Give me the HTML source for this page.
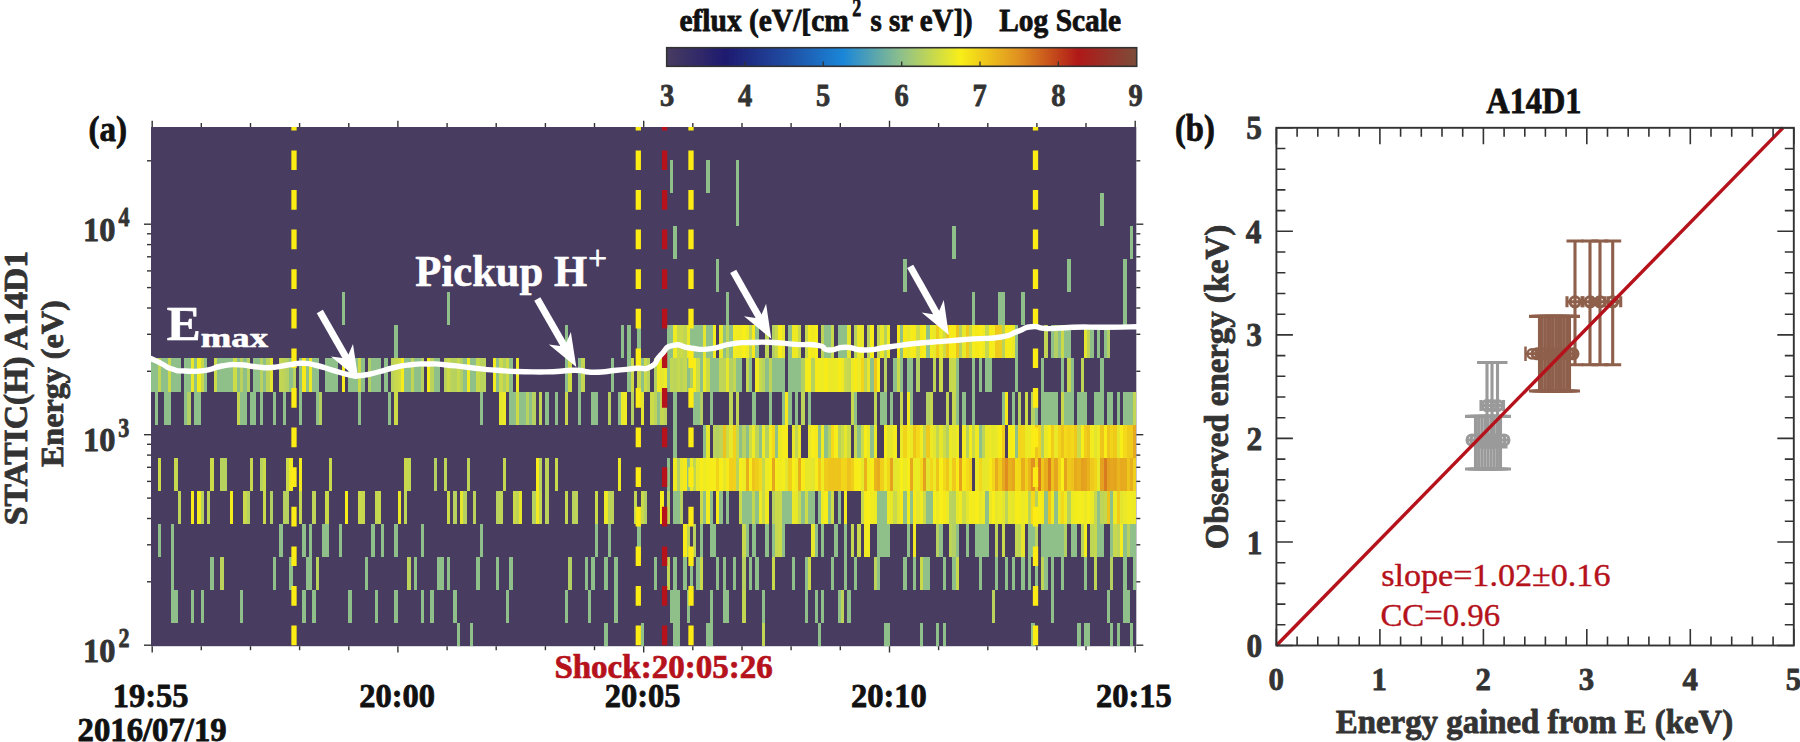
<!DOCTYPE html>
<html><head><meta charset="utf-8"><title>Figure</title>
<style>
html,body{margin:0;padding:0;background:#fff;}
svg{display:block;}
text{font-family:"Liberation Serif",serif;font-weight:bold;stroke-linejoin:round;}
.tk{stroke:#333;stroke-width:0.8px;}
.bk{stroke:#111;stroke-width:0.8px;}
.tk{fill:#333;}
.bk{fill:#111;}
</style></head><body>
<svg width="1800" height="742" viewBox="0 0 1800 742">
<defs>
<linearGradient id="cb" x1="0" x2="1" y1="0" y2="0">
<stop offset="0" stop-color="#483c60"/><stop offset="0.125" stop-color="#1e1a70"/><stop offset="0.25" stop-color="#1f4aa0"/><stop offset="0.375" stop-color="#1a86d8"/><stop offset="0.5" stop-color="#8fc08a"/><stop offset="0.625" stop-color="#f8ee18"/><stop offset="0.75" stop-color="#e09020"/><stop offset="0.875" stop-color="#b01818"/><stop offset="1" stop-color="#7d4d3a"/>
</linearGradient>
</defs>
<rect width="1800" height="742" fill="#fff"/>

<!-- colorbar -->
<rect x="666.7" y="47.7" width="470" height="18.6" fill="url(#cb)" stroke="#333" stroke-width="1.6"/>
<g stroke="#333" stroke-width="1.3">
<line x1="745" y1="61.5" x2="745" y2="66"/><line x1="823.3" y1="61.5" x2="823.3" y2="66"/><line x1="901.7" y1="61.5" x2="901.7" y2="66"/><line x1="980" y1="61.5" x2="980" y2="66"/><line x1="1058.3" y1="61.5" x2="1058.3" y2="66"/>
</g>

<!-- spectrogram -->
<rect x="151" y="127" width="985.3" height="519.2" fill="#483c60"/>
<g shape-rendering="crispEdges">
<rect x="456.6" y="623.2" width="3.3" height="23.0" fill="#8fc08a"/>
<rect x="469.8" y="623.2" width="3.3" height="23.0" fill="#8fc08a"/>
<rect x="604.4" y="623.2" width="3.3" height="23.0" fill="#8fc08a"/>
<rect x="640.5" y="623.2" width="3.3" height="23.0" fill="#8fc08a"/>
<rect x="673.3" y="623.2" width="6.6" height="23.0" fill="#8fc08a"/>
<rect x="706.2" y="623.2" width="6.6" height="23.0" fill="#8fc08a"/>
<rect x="762.0" y="623.2" width="3.3" height="23.0" fill="#c1d653"/>
<rect x="817.8" y="623.2" width="3.3" height="23.0" fill="#8fc08a"/>
<rect x="883.5" y="623.2" width="6.6" height="23.0" fill="#8fc08a"/>
<rect x="919.6" y="623.2" width="3.3" height="23.0" fill="#8fc08a"/>
<rect x="936.0" y="623.2" width="3.3" height="23.0" fill="#8fc08a"/>
<rect x="942.6" y="623.2" width="3.3" height="23.0" fill="#8fc08a"/>
<rect x="1031.2" y="623.2" width="3.3" height="23.0" fill="#8fc08a"/>
<rect x="1077.2" y="623.2" width="3.3" height="23.0" fill="#8fc08a"/>
<rect x="1083.8" y="623.2" width="6.6" height="23.0" fill="#8fc08a"/>
<rect x="1110.0" y="623.2" width="3.3" height="23.0" fill="#8fc08a"/>
<rect x="1116.6" y="623.2" width="3.3" height="23.0" fill="#8fc08a"/>
<rect x="1129.7" y="623.2" width="3.3" height="23.0" fill="#8fc08a"/>
<rect x="171.0" y="590.1" width="6.6" height="33.1" fill="#8fc08a"/>
<rect x="190.7" y="590.1" width="3.3" height="33.1" fill="#8fc08a"/>
<rect x="200.6" y="590.1" width="3.3" height="33.1" fill="#8fc08a"/>
<rect x="239.9" y="590.1" width="3.3" height="33.1" fill="#8fc08a"/>
<rect x="302.3" y="590.1" width="3.3" height="33.1" fill="#8fc08a"/>
<rect x="312.2" y="590.1" width="3.3" height="33.1" fill="#8fc08a"/>
<rect x="348.3" y="590.1" width="3.3" height="33.1" fill="#8fc08a"/>
<rect x="374.6" y="590.1" width="3.3" height="33.1" fill="#8fc08a"/>
<rect x="394.3" y="590.1" width="3.3" height="33.1" fill="#8fc08a"/>
<rect x="420.5" y="590.1" width="3.3" height="33.1" fill="#8fc08a"/>
<rect x="430.4" y="590.1" width="3.3" height="33.1" fill="#8fc08a"/>
<rect x="453.4" y="590.1" width="3.3" height="33.1" fill="#8fc08a"/>
<rect x="505.9" y="590.1" width="3.3" height="33.1" fill="#8fc08a"/>
<rect x="565.0" y="590.1" width="3.3" height="33.1" fill="#8fc08a"/>
<rect x="588.0" y="590.1" width="3.3" height="33.1" fill="#8fc08a"/>
<rect x="614.2" y="590.1" width="3.3" height="33.1" fill="#8fc08a"/>
<rect x="670.1" y="590.1" width="9.9" height="33.1" fill="#8fc08a"/>
<rect x="686.5" y="590.1" width="3.3" height="33.1" fill="#8fc08a"/>
<rect x="709.5" y="590.1" width="3.3" height="33.1" fill="#8fc08a"/>
<rect x="722.6" y="590.1" width="6.6" height="33.1" fill="#8fc08a"/>
<rect x="742.3" y="590.1" width="3.3" height="33.1" fill="#c2d652"/>
<rect x="762.0" y="590.1" width="3.3" height="33.1" fill="#8fc08a"/>
<rect x="804.7" y="590.1" width="3.3" height="33.1" fill="#8fc08a"/>
<rect x="814.5" y="590.1" width="3.3" height="33.1" fill="#8fc08a"/>
<rect x="821.1" y="590.1" width="3.3" height="33.1" fill="#8fc08a"/>
<rect x="837.5" y="590.1" width="3.3" height="33.1" fill="#8fc08a"/>
<rect x="840.8" y="590.1" width="3.3" height="33.1" fill="#bdd458"/>
<rect x="847.4" y="590.1" width="3.3" height="33.1" fill="#8fc08a"/>
<rect x="991.8" y="590.1" width="3.3" height="33.1" fill="#bad35b"/>
<rect x="1050.9" y="590.1" width="3.3" height="33.1" fill="#8fc08a"/>
<rect x="1106.8" y="590.1" width="3.3" height="33.1" fill="#8fc08a"/>
<rect x="1123.2" y="590.1" width="6.6" height="33.1" fill="#8fc08a"/>
<rect x="171.0" y="557.0" width="3.3" height="33.1" fill="#8fc08a"/>
<rect x="210.4" y="557.0" width="3.3" height="33.1" fill="#8fc08a"/>
<rect x="220.2" y="557.0" width="3.3" height="33.1" fill="#bbd35a"/>
<rect x="272.8" y="557.0" width="3.3" height="33.1" fill="#8fc08a"/>
<rect x="289.2" y="557.0" width="3.3" height="33.1" fill="#8fc08a"/>
<rect x="305.6" y="557.0" width="6.6" height="33.1" fill="#8fc08a"/>
<rect x="315.5" y="557.0" width="3.3" height="33.1" fill="#bad35b"/>
<rect x="364.7" y="557.0" width="3.3" height="33.1" fill="#8fc08a"/>
<rect x="407.4" y="557.0" width="3.3" height="33.1" fill="#bbd35a"/>
<rect x="414.0" y="557.0" width="3.3" height="33.1" fill="#8fc08a"/>
<rect x="436.9" y="557.0" width="6.6" height="33.1" fill="#8fc08a"/>
<rect x="446.8" y="557.0" width="3.3" height="33.1" fill="#8fc08a"/>
<rect x="476.4" y="557.0" width="3.3" height="33.1" fill="#8fc08a"/>
<rect x="496.1" y="557.0" width="3.3" height="33.1" fill="#8fc08a"/>
<rect x="509.2" y="557.0" width="3.3" height="33.1" fill="#8fc08a"/>
<rect x="568.3" y="557.0" width="3.3" height="33.1" fill="#b4d062"/>
<rect x="584.7" y="557.0" width="3.3" height="33.1" fill="#8fc08a"/>
<rect x="591.3" y="557.0" width="3.3" height="33.1" fill="#8fc08a"/>
<rect x="604.4" y="557.0" width="3.3" height="33.1" fill="#8fc08a"/>
<rect x="614.2" y="557.0" width="3.3" height="33.1" fill="#8fc08a"/>
<rect x="653.6" y="557.0" width="3.3" height="33.1" fill="#8fc08a"/>
<rect x="666.8" y="557.0" width="3.3" height="33.1" fill="#c2d653"/>
<rect x="673.3" y="557.0" width="3.3" height="33.1" fill="#8fc08a"/>
<rect x="683.2" y="557.0" width="3.3" height="33.1" fill="#8fc08a"/>
<rect x="689.8" y="557.0" width="3.3" height="33.1" fill="#8fc08a"/>
<rect x="696.3" y="557.0" width="3.3" height="33.1" fill="#8fc08a"/>
<rect x="699.6" y="557.0" width="3.3" height="33.1" fill="#cada4a"/>
<rect x="716.0" y="557.0" width="3.3" height="33.1" fill="#8fc08a"/>
<rect x="722.6" y="557.0" width="3.3" height="33.1" fill="#8fc08a"/>
<rect x="732.5" y="557.0" width="3.3" height="33.1" fill="#8fc08a"/>
<rect x="742.3" y="557.0" width="3.3" height="33.1" fill="#b7d15f"/>
<rect x="748.9" y="557.0" width="3.3" height="33.1" fill="#8fc08a"/>
<rect x="755.4" y="557.0" width="3.3" height="33.1" fill="#8fc08a"/>
<rect x="771.8" y="557.0" width="3.3" height="33.1" fill="#cbda49"/>
<rect x="791.5" y="557.0" width="3.3" height="33.1" fill="#8fc08a"/>
<rect x="804.7" y="557.0" width="3.3" height="33.1" fill="#8fc08a"/>
<rect x="808.0" y="557.0" width="3.3" height="33.1" fill="#cddb47"/>
<rect x="831.0" y="557.0" width="3.3" height="33.1" fill="#8fc08a"/>
<rect x="844.1" y="557.0" width="3.3" height="33.1" fill="#8fc08a"/>
<rect x="853.9" y="557.0" width="3.3" height="33.1" fill="#8fc08a"/>
<rect x="873.6" y="557.0" width="3.3" height="33.1" fill="#bcd459"/>
<rect x="876.9" y="557.0" width="3.3" height="33.1" fill="#8fc08a"/>
<rect x="903.2" y="557.0" width="3.3" height="33.1" fill="#8fc08a"/>
<rect x="913.0" y="557.0" width="3.3" height="33.1" fill="#8fc08a"/>
<rect x="919.6" y="557.0" width="3.3" height="33.1" fill="#c8d94c"/>
<rect x="922.9" y="557.0" width="6.6" height="33.1" fill="#8fc08a"/>
<rect x="942.6" y="557.0" width="3.3" height="33.1" fill="#8fc08a"/>
<rect x="952.4" y="557.0" width="3.3" height="33.1" fill="#8fc08a"/>
<rect x="955.7" y="557.0" width="3.3" height="33.1" fill="#c8d94c"/>
<rect x="978.7" y="557.0" width="3.3" height="33.1" fill="#8fc08a"/>
<rect x="995.1" y="557.0" width="3.3" height="33.1" fill="#8fc08a"/>
<rect x="1005.0" y="557.0" width="3.3" height="33.1" fill="#8fc08a"/>
<rect x="1011.5" y="557.0" width="3.3" height="33.1" fill="#8fc08a"/>
<rect x="1021.4" y="557.0" width="3.3" height="33.1" fill="#8fc08a"/>
<rect x="1028.0" y="557.0" width="3.3" height="33.1" fill="#8fc08a"/>
<rect x="1034.5" y="557.0" width="3.3" height="33.1" fill="#8fc08a"/>
<rect x="1041.1" y="557.0" width="3.3" height="33.1" fill="#bfd556"/>
<rect x="1044.4" y="557.0" width="3.3" height="33.1" fill="#8fc08a"/>
<rect x="1050.9" y="557.0" width="3.3" height="33.1" fill="#8fc08a"/>
<rect x="1060.8" y="557.0" width="3.3" height="33.1" fill="#8fc08a"/>
<rect x="1083.8" y="557.0" width="3.3" height="33.1" fill="#8fc08a"/>
<rect x="1093.6" y="557.0" width="3.3" height="33.1" fill="#bed556"/>
<rect x="1110.0" y="557.0" width="3.3" height="33.1" fill="#b5d061"/>
<rect x="1123.2" y="557.0" width="3.3" height="33.1" fill="#8fc08a"/>
<rect x="1133.0" y="557.0" width="3.3" height="33.1" fill="#8fc08a"/>
<rect x="157.9" y="523.9" width="3.3" height="33.1" fill="#8fc08a"/>
<rect x="171.0" y="523.9" width="3.3" height="33.1" fill="#8fc08a"/>
<rect x="279.4" y="523.9" width="3.3" height="33.1" fill="#8fc08a"/>
<rect x="302.3" y="523.9" width="3.3" height="33.1" fill="#8fc08a"/>
<rect x="308.9" y="523.9" width="3.3" height="33.1" fill="#8fc08a"/>
<rect x="322.0" y="523.9" width="6.6" height="33.1" fill="#8fc08a"/>
<rect x="338.5" y="523.9" width="3.3" height="33.1" fill="#8fc08a"/>
<rect x="371.3" y="523.9" width="3.3" height="33.1" fill="#8fc08a"/>
<rect x="381.1" y="523.9" width="3.3" height="33.1" fill="#8fc08a"/>
<rect x="394.3" y="523.9" width="3.3" height="33.1" fill="#8fc08a"/>
<rect x="420.5" y="523.9" width="3.3" height="33.1" fill="#8fc08a"/>
<rect x="479.6" y="523.9" width="3.3" height="33.1" fill="#8fc08a"/>
<rect x="594.5" y="523.9" width="3.3" height="33.1" fill="#8fc08a"/>
<rect x="607.7" y="523.9" width="3.3" height="33.1" fill="#8fc08a"/>
<rect x="637.2" y="523.9" width="3.3" height="33.1" fill="#8fc08a"/>
<rect x="683.2" y="523.9" width="3.3" height="33.1" fill="#f8ec18"/>
<rect x="686.5" y="523.9" width="3.3" height="33.1" fill="#bed457"/>
<rect x="693.0" y="523.9" width="3.3" height="33.1" fill="#b9d25c"/>
<rect x="699.6" y="523.9" width="3.3" height="33.1" fill="#8fc08a"/>
<rect x="709.5" y="523.9" width="6.6" height="33.1" fill="#8fc08a"/>
<rect x="742.3" y="523.9" width="3.3" height="33.1" fill="#c8d94c"/>
<rect x="745.6" y="523.9" width="3.3" height="33.1" fill="#8fc08a"/>
<rect x="752.2" y="523.9" width="3.3" height="33.1" fill="#8fc08a"/>
<rect x="765.3" y="523.9" width="3.3" height="33.1" fill="#8fc08a"/>
<rect x="771.8" y="523.9" width="3.3" height="33.1" fill="#8fc08a"/>
<rect x="775.1" y="523.9" width="3.3" height="33.1" fill="#c7d84e"/>
<rect x="778.4" y="523.9" width="3.3" height="33.1" fill="#cbda49"/>
<rect x="781.7" y="523.9" width="3.3" height="33.1" fill="#8fc08a"/>
<rect x="811.2" y="523.9" width="3.3" height="33.1" fill="#e7e72b"/>
<rect x="814.5" y="523.9" width="3.3" height="33.1" fill="#8fc08a"/>
<rect x="821.1" y="523.9" width="3.3" height="33.1" fill="#8fc08a"/>
<rect x="834.2" y="523.9" width="3.3" height="33.1" fill="#8fc08a"/>
<rect x="844.1" y="523.9" width="3.3" height="33.1" fill="#8fc08a"/>
<rect x="850.7" y="523.9" width="3.3" height="33.1" fill="#c4d750"/>
<rect x="857.2" y="523.9" width="3.3" height="33.1" fill="#cada4a"/>
<rect x="863.8" y="523.9" width="3.3" height="33.1" fill="#efea22"/>
<rect x="867.1" y="523.9" width="3.3" height="33.1" fill="#f1eb1f"/>
<rect x="876.9" y="523.9" width="13.1" height="33.1" fill="#8fc08a"/>
<rect x="906.5" y="523.9" width="3.3" height="33.1" fill="#8fc08a"/>
<rect x="913.0" y="523.9" width="3.3" height="33.1" fill="#eee923"/>
<rect x="936.0" y="523.9" width="3.3" height="33.1" fill="#b6d160"/>
<rect x="939.3" y="523.9" width="3.3" height="33.1" fill="#8fc08a"/>
<rect x="949.2" y="523.9" width="3.3" height="33.1" fill="#bfd556"/>
<rect x="952.4" y="523.9" width="3.3" height="33.1" fill="#b2d064"/>
<rect x="955.7" y="523.9" width="3.3" height="33.1" fill="#8fc08a"/>
<rect x="965.6" y="523.9" width="3.3" height="33.1" fill="#8fc08a"/>
<rect x="975.4" y="523.9" width="13.1" height="33.1" fill="#8fc08a"/>
<rect x="995.1" y="523.9" width="3.3" height="33.1" fill="#bed557"/>
<rect x="1001.7" y="523.9" width="3.3" height="33.1" fill="#c8d94c"/>
<rect x="1014.8" y="523.9" width="3.3" height="33.1" fill="#c4d750"/>
<rect x="1018.1" y="523.9" width="3.3" height="33.1" fill="#bfd556"/>
<rect x="1021.4" y="523.9" width="3.3" height="33.1" fill="#e5e62c"/>
<rect x="1028.0" y="523.9" width="6.6" height="33.1" fill="#8fc08a"/>
<rect x="1034.5" y="523.9" width="3.3" height="33.1" fill="#bcd459"/>
<rect x="1041.1" y="523.9" width="23.0" height="33.1" fill="#8fc08a"/>
<rect x="1064.1" y="523.9" width="3.3" height="33.1" fill="#b3d063"/>
<rect x="1070.6" y="523.9" width="6.6" height="33.1" fill="#8fc08a"/>
<rect x="1080.5" y="523.9" width="3.3" height="33.1" fill="#b9d25c"/>
<rect x="1083.8" y="523.9" width="3.3" height="33.1" fill="#f5ed1b"/>
<rect x="1090.3" y="523.9" width="3.3" height="33.1" fill="#bfd556"/>
<rect x="1093.6" y="523.9" width="3.3" height="33.1" fill="#c6d84e"/>
<rect x="1096.9" y="523.9" width="6.6" height="33.1" fill="#8fc08a"/>
<rect x="1110.0" y="523.9" width="3.3" height="33.1" fill="#8fc08a"/>
<rect x="1113.3" y="523.9" width="3.3" height="33.1" fill="#c7d84e"/>
<rect x="1116.6" y="523.9" width="3.3" height="33.1" fill="#bed557"/>
<rect x="1119.9" y="523.9" width="3.3" height="33.1" fill="#f3ec1e"/>
<rect x="1123.2" y="523.9" width="3.3" height="33.1" fill="#8fc08a"/>
<rect x="1126.5" y="523.9" width="3.3" height="33.1" fill="#b9d25d"/>
<rect x="1129.7" y="523.9" width="6.6" height="33.1" fill="#8fc08a"/>
<rect x="177.6" y="490.8" width="3.3" height="33.1" fill="#bed457"/>
<rect x="190.7" y="490.8" width="3.3" height="33.1" fill="#f7ea18"/>
<rect x="197.3" y="490.8" width="3.3" height="33.1" fill="#f3ec1e"/>
<rect x="200.6" y="490.8" width="3.3" height="33.1" fill="#b8d25d"/>
<rect x="207.1" y="490.8" width="3.3" height="33.1" fill="#c0d555"/>
<rect x="230.1" y="490.8" width="3.3" height="33.1" fill="#f5ed1b"/>
<rect x="243.2" y="490.8" width="3.3" height="33.1" fill="#cada4a"/>
<rect x="246.5" y="490.8" width="3.3" height="33.1" fill="#b7d15f"/>
<rect x="262.9" y="490.8" width="3.3" height="33.1" fill="#cada4a"/>
<rect x="269.5" y="490.8" width="3.3" height="33.1" fill="#b2cf64"/>
<rect x="282.6" y="490.8" width="3.3" height="33.1" fill="#b7d15f"/>
<rect x="285.9" y="490.8" width="3.3" height="33.1" fill="#b6d15f"/>
<rect x="299.1" y="490.8" width="3.3" height="33.1" fill="#c3d752"/>
<rect x="312.2" y="490.8" width="3.3" height="33.1" fill="#bed557"/>
<rect x="325.3" y="490.8" width="3.3" height="33.1" fill="#cbda48"/>
<rect x="345.0" y="490.8" width="3.3" height="33.1" fill="#f8ee18"/>
<rect x="358.1" y="490.8" width="3.3" height="33.1" fill="#cada4a"/>
<rect x="361.4" y="490.8" width="3.3" height="33.1" fill="#c7d84e"/>
<rect x="374.6" y="490.8" width="3.3" height="33.1" fill="#c3d752"/>
<rect x="377.9" y="490.8" width="3.3" height="33.1" fill="#c7d94d"/>
<rect x="397.6" y="490.8" width="3.3" height="33.1" fill="#ece925"/>
<rect x="404.1" y="490.8" width="3.3" height="33.1" fill="#bfd556"/>
<rect x="446.8" y="490.8" width="3.3" height="33.1" fill="#ccdb48"/>
<rect x="453.4" y="490.8" width="3.3" height="33.1" fill="#b7d25f"/>
<rect x="459.9" y="490.8" width="3.3" height="33.1" fill="#e5e62d"/>
<rect x="463.2" y="490.8" width="3.3" height="33.1" fill="#b7d15f"/>
<rect x="473.1" y="490.8" width="3.3" height="33.1" fill="#bbd35a"/>
<rect x="496.1" y="490.8" width="3.3" height="33.1" fill="#b8d25d"/>
<rect x="499.3" y="490.8" width="3.3" height="33.1" fill="#bfd556"/>
<rect x="512.5" y="490.8" width="3.3" height="33.1" fill="#cbda49"/>
<rect x="515.8" y="490.8" width="3.3" height="33.1" fill="#c0d555"/>
<rect x="519.0" y="490.8" width="3.3" height="33.1" fill="#e8e729"/>
<rect x="532.2" y="490.8" width="3.3" height="33.1" fill="#b5d161"/>
<rect x="535.5" y="490.8" width="3.3" height="33.1" fill="#f1eb20"/>
<rect x="538.7" y="490.8" width="3.3" height="33.1" fill="#c6d84f"/>
<rect x="545.3" y="490.8" width="3.3" height="33.1" fill="#bbd35a"/>
<rect x="565.0" y="490.8" width="3.3" height="33.1" fill="#c4d750"/>
<rect x="571.6" y="490.8" width="3.3" height="33.1" fill="#b7d25e"/>
<rect x="574.9" y="490.8" width="3.3" height="33.1" fill="#bdd458"/>
<rect x="594.5" y="490.8" width="3.3" height="33.1" fill="#ccdb48"/>
<rect x="604.4" y="490.8" width="3.3" height="33.1" fill="#ede924"/>
<rect x="607.7" y="490.8" width="3.3" height="33.1" fill="#bbd35a"/>
<rect x="611.0" y="490.8" width="3.3" height="33.1" fill="#bdd458"/>
<rect x="634.0" y="490.8" width="3.3" height="33.1" fill="#c4d750"/>
<rect x="640.5" y="490.8" width="3.3" height="33.1" fill="#c8d94c"/>
<rect x="643.8" y="490.8" width="3.3" height="33.1" fill="#b2cf64"/>
<rect x="660.2" y="490.8" width="3.3" height="33.1" fill="#f7ee19"/>
<rect x="666.8" y="490.8" width="3.3" height="33.1" fill="#bcd45a"/>
<rect x="673.3" y="490.8" width="6.6" height="33.1" fill="#8fc08a"/>
<rect x="679.9" y="490.8" width="3.3" height="33.1" fill="#b8d25e"/>
<rect x="699.6" y="490.8" width="3.3" height="33.1" fill="#c9d94b"/>
<rect x="702.9" y="490.8" width="3.3" height="33.1" fill="#8fc08a"/>
<rect x="706.2" y="490.8" width="3.3" height="33.1" fill="#f3ec1e"/>
<rect x="709.5" y="490.8" width="3.3" height="33.1" fill="#8fc08a"/>
<rect x="716.0" y="490.8" width="3.3" height="33.1" fill="#f7ec18"/>
<rect x="719.3" y="490.8" width="3.3" height="33.1" fill="#8fc08a"/>
<rect x="725.9" y="490.8" width="3.3" height="33.1" fill="#8fc08a"/>
<rect x="739.0" y="490.8" width="3.3" height="33.1" fill="#cbda49"/>
<rect x="742.3" y="490.8" width="9.9" height="33.1" fill="#8fc08a"/>
<rect x="752.2" y="490.8" width="3.3" height="33.1" fill="#c4d751"/>
<rect x="755.4" y="490.8" width="3.3" height="33.1" fill="#8fc08a"/>
<rect x="758.7" y="490.8" width="3.3" height="33.1" fill="#efea22"/>
<rect x="762.0" y="490.8" width="3.3" height="33.1" fill="#c8d94c"/>
<rect x="765.3" y="490.8" width="3.3" height="33.1" fill="#f0eb20"/>
<rect x="771.8" y="490.8" width="3.3" height="33.1" fill="#b7d15f"/>
<rect x="775.1" y="490.8" width="3.3" height="33.1" fill="#cbda49"/>
<rect x="778.4" y="490.8" width="3.3" height="33.1" fill="#cada4a"/>
<rect x="781.7" y="490.8" width="9.8" height="33.1" fill="#8fc08a"/>
<rect x="791.5" y="490.8" width="3.3" height="33.1" fill="#eae827"/>
<rect x="794.8" y="490.8" width="3.3" height="33.1" fill="#e7e72a"/>
<rect x="798.1" y="490.8" width="3.3" height="33.1" fill="#c8d94c"/>
<rect x="801.4" y="490.8" width="3.3" height="33.1" fill="#8fc08a"/>
<rect x="804.7" y="490.8" width="3.3" height="33.1" fill="#ccdb48"/>
<rect x="808.0" y="490.8" width="6.6" height="33.1" fill="#8fc08a"/>
<rect x="817.8" y="490.8" width="3.3" height="33.1" fill="#8fc08a"/>
<rect x="821.1" y="490.8" width="3.3" height="33.1" fill="#ece925"/>
<rect x="824.4" y="490.8" width="3.3" height="33.1" fill="#f8ed18"/>
<rect x="827.7" y="490.8" width="3.3" height="33.1" fill="#8fc08a"/>
<rect x="831.0" y="490.8" width="3.3" height="33.1" fill="#cddb47"/>
<rect x="837.5" y="490.8" width="3.3" height="33.1" fill="#8fc08a"/>
<rect x="844.1" y="490.8" width="3.3" height="33.1" fill="#f1eb1f"/>
<rect x="860.5" y="490.8" width="3.3" height="33.1" fill="#c9d94b"/>
<rect x="863.8" y="490.8" width="3.3" height="33.1" fill="#f7ec18"/>
<rect x="867.1" y="490.8" width="3.3" height="33.1" fill="#f8ee18"/>
<rect x="870.3" y="490.8" width="3.3" height="33.1" fill="#f0eb21"/>
<rect x="873.6" y="490.8" width="3.3" height="33.1" fill="#ece925"/>
<rect x="876.9" y="490.8" width="9.8" height="33.1" fill="#8fc08a"/>
<rect x="886.8" y="490.8" width="3.3" height="33.1" fill="#ebe827"/>
<rect x="890.0" y="490.8" width="3.3" height="33.1" fill="#e7e72a"/>
<rect x="893.3" y="490.8" width="3.3" height="33.1" fill="#c8d94c"/>
<rect x="896.6" y="490.8" width="3.3" height="33.1" fill="#e4e52e"/>
<rect x="899.9" y="490.8" width="3.3" height="33.1" fill="#f7e918"/>
<rect x="903.2" y="490.8" width="3.3" height="33.1" fill="#8fc08a"/>
<rect x="906.5" y="490.8" width="3.3" height="33.1" fill="#f3ec1d"/>
<rect x="909.8" y="490.8" width="3.3" height="33.1" fill="#8fc08a"/>
<rect x="913.0" y="490.8" width="3.3" height="33.1" fill="#f7ea18"/>
<rect x="916.3" y="490.8" width="3.3" height="33.1" fill="#e3e52f"/>
<rect x="919.6" y="490.8" width="3.3" height="33.1" fill="#efea21"/>
<rect x="922.9" y="490.8" width="3.3" height="33.1" fill="#cada4a"/>
<rect x="926.2" y="490.8" width="6.6" height="33.1" fill="#8fc08a"/>
<rect x="932.7" y="490.8" width="3.3" height="33.1" fill="#f5ed1c"/>
<rect x="936.0" y="490.8" width="3.3" height="33.1" fill="#ebe826"/>
<rect x="939.3" y="490.8" width="3.3" height="33.1" fill="#f8ee19"/>
<rect x="942.6" y="490.8" width="3.3" height="33.1" fill="#f6e819"/>
<rect x="945.9" y="490.8" width="3.3" height="33.1" fill="#ebe826"/>
<rect x="949.2" y="490.8" width="3.3" height="33.1" fill="#b9d35c"/>
<rect x="952.4" y="490.8" width="3.3" height="33.1" fill="#b6d15f"/>
<rect x="955.7" y="490.8" width="3.3" height="33.1" fill="#e7e72a"/>
<rect x="959.0" y="490.8" width="3.3" height="33.1" fill="#efea22"/>
<rect x="962.3" y="490.8" width="3.3" height="33.1" fill="#cddb47"/>
<rect x="965.6" y="490.8" width="3.3" height="33.1" fill="#e4e52d"/>
<rect x="968.8" y="490.8" width="3.3" height="33.1" fill="#f4ec1d"/>
<rect x="972.1" y="490.8" width="3.3" height="33.1" fill="#f1eb1f"/>
<rect x="975.4" y="490.8" width="3.3" height="33.1" fill="#f8ed18"/>
<rect x="978.7" y="490.8" width="3.3" height="33.1" fill="#e7e62b"/>
<rect x="982.0" y="490.8" width="3.3" height="33.1" fill="#ece925"/>
<rect x="985.3" y="490.8" width="3.3" height="33.1" fill="#8fc08a"/>
<rect x="988.5" y="490.8" width="3.3" height="33.1" fill="#ebe826"/>
<rect x="991.8" y="490.8" width="3.3" height="33.1" fill="#f8ed18"/>
<rect x="995.1" y="490.8" width="3.3" height="33.1" fill="#e6e62c"/>
<rect x="998.4" y="490.8" width="3.3" height="33.1" fill="#ece925"/>
<rect x="1001.7" y="490.8" width="3.3" height="33.1" fill="#e4e52e"/>
<rect x="1005.0" y="490.8" width="3.3" height="33.1" fill="#bdd458"/>
<rect x="1008.2" y="490.8" width="3.3" height="33.1" fill="#e8e72a"/>
<rect x="1011.5" y="490.8" width="3.3" height="33.1" fill="#e5e62c"/>
<rect x="1014.8" y="490.8" width="3.3" height="33.1" fill="#f7eb18"/>
<rect x="1018.1" y="490.8" width="3.3" height="33.1" fill="#f5ed1b"/>
<rect x="1021.4" y="490.8" width="3.3" height="33.1" fill="#ece925"/>
<rect x="1024.7" y="490.8" width="3.3" height="33.1" fill="#f3ec1d"/>
<rect x="1028.0" y="490.8" width="3.3" height="33.1" fill="#bbd35a"/>
<rect x="1031.2" y="490.8" width="3.3" height="33.1" fill="#f3db1a"/>
<rect x="1034.5" y="490.8" width="3.3" height="33.1" fill="#b6d15f"/>
<rect x="1037.8" y="490.8" width="3.3" height="33.1" fill="#f7eb18"/>
<rect x="1041.1" y="490.8" width="3.3" height="33.1" fill="#f7e918"/>
<rect x="1044.4" y="490.8" width="3.3" height="33.1" fill="#8fc08a"/>
<rect x="1047.7" y="490.8" width="3.3" height="33.1" fill="#eec61b"/>
<rect x="1050.9" y="490.8" width="3.3" height="33.1" fill="#f0ea21"/>
<rect x="1054.2" y="490.8" width="3.3" height="33.1" fill="#8fc08a"/>
<rect x="1057.5" y="490.8" width="3.3" height="33.1" fill="#e6e62c"/>
<rect x="1060.8" y="490.8" width="3.3" height="33.1" fill="#f2d81a"/>
<rect x="1064.1" y="490.8" width="3.3" height="33.1" fill="#f0ea21"/>
<rect x="1067.3" y="490.8" width="3.3" height="33.1" fill="#b6d15f"/>
<rect x="1070.6" y="490.8" width="3.3" height="33.1" fill="#ece925"/>
<rect x="1073.9" y="490.8" width="3.3" height="33.1" fill="#f3ec1d"/>
<rect x="1077.2" y="490.8" width="3.3" height="33.1" fill="#f4ec1c"/>
<rect x="1080.5" y="490.8" width="3.3" height="33.1" fill="#f3ec1e"/>
<rect x="1083.8" y="490.8" width="3.3" height="33.1" fill="#eae827"/>
<rect x="1087.0" y="490.8" width="3.3" height="33.1" fill="#f6ed1a"/>
<rect x="1090.3" y="490.8" width="3.3" height="33.1" fill="#eae827"/>
<rect x="1093.6" y="490.8" width="3.3" height="33.1" fill="#c5d850"/>
<rect x="1096.9" y="490.8" width="3.3" height="33.1" fill="#8fc08a"/>
<rect x="1100.2" y="490.8" width="3.3" height="33.1" fill="#bdd458"/>
<rect x="1103.5" y="490.8" width="3.3" height="33.1" fill="#c4d751"/>
<rect x="1106.8" y="490.8" width="3.3" height="33.1" fill="#edc41c"/>
<rect x="1110.0" y="490.8" width="3.3" height="33.1" fill="#8fc08a"/>
<rect x="1113.3" y="490.8" width="3.3" height="33.1" fill="#ede924"/>
<rect x="1116.6" y="490.8" width="3.3" height="33.1" fill="#efcb1b"/>
<rect x="1119.9" y="490.8" width="3.3" height="33.1" fill="#e4e52e"/>
<rect x="1123.2" y="490.8" width="3.3" height="33.1" fill="#eae828"/>
<rect x="1126.5" y="490.8" width="3.3" height="33.1" fill="#f1eb20"/>
<rect x="1129.7" y="490.8" width="3.3" height="33.1" fill="#eeea23"/>
<rect x="1133.0" y="490.8" width="3.3" height="33.1" fill="#ede924"/>
<rect x="157.9" y="457.7" width="3.3" height="33.1" fill="#cddb46"/>
<rect x="174.3" y="457.7" width="3.3" height="33.1" fill="#c6d84e"/>
<rect x="210.4" y="457.7" width="3.3" height="33.1" fill="#ccdb47"/>
<rect x="220.2" y="457.7" width="3.3" height="33.1" fill="#b7d15f"/>
<rect x="223.5" y="457.7" width="3.3" height="33.1" fill="#b5d160"/>
<rect x="249.8" y="457.7" width="3.3" height="33.1" fill="#c5d850"/>
<rect x="259.6" y="457.7" width="3.3" height="33.1" fill="#b8d25e"/>
<rect x="262.9" y="457.7" width="3.3" height="33.1" fill="#cbda49"/>
<rect x="285.9" y="457.7" width="3.3" height="33.1" fill="#cbda49"/>
<rect x="289.2" y="457.7" width="3.3" height="33.1" fill="#efea22"/>
<rect x="299.1" y="457.7" width="3.3" height="33.1" fill="#f1eb1f"/>
<rect x="328.6" y="457.7" width="3.3" height="33.1" fill="#cada4a"/>
<rect x="404.1" y="457.7" width="3.3" height="33.1" fill="#c9d94b"/>
<rect x="407.4" y="457.7" width="3.3" height="33.1" fill="#c2d752"/>
<rect x="433.7" y="457.7" width="3.3" height="33.1" fill="#b4d062"/>
<rect x="443.5" y="457.7" width="3.3" height="33.1" fill="#bdd458"/>
<rect x="466.5" y="457.7" width="3.3" height="33.1" fill="#bed457"/>
<rect x="502.6" y="457.7" width="3.3" height="33.1" fill="#c3d752"/>
<rect x="535.5" y="457.7" width="3.3" height="33.1" fill="#f8ed18"/>
<rect x="538.7" y="457.7" width="3.3" height="33.1" fill="#b9d35c"/>
<rect x="545.3" y="457.7" width="3.3" height="33.1" fill="#bdd458"/>
<rect x="555.1" y="457.7" width="3.3" height="33.1" fill="#c8d94c"/>
<rect x="617.5" y="457.7" width="3.3" height="33.1" fill="#ece925"/>
<rect x="666.8" y="457.7" width="3.3" height="33.1" fill="#8fc08a"/>
<rect x="673.3" y="457.7" width="3.3" height="33.1" fill="#eeea22"/>
<rect x="676.6" y="457.7" width="3.3" height="33.1" fill="#b5d061"/>
<rect x="679.9" y="457.7" width="3.3" height="33.1" fill="#e9e728"/>
<rect x="683.2" y="457.7" width="3.3" height="33.1" fill="#f6e819"/>
<rect x="686.5" y="457.7" width="3.3" height="33.1" fill="#8fc08a"/>
<rect x="689.8" y="457.7" width="3.3" height="33.1" fill="#ede924"/>
<rect x="693.0" y="457.7" width="3.3" height="33.1" fill="#bfd555"/>
<rect x="696.3" y="457.7" width="3.3" height="33.1" fill="#ebe827"/>
<rect x="699.6" y="457.7" width="3.3" height="33.1" fill="#f8ec18"/>
<rect x="702.9" y="457.7" width="3.3" height="33.1" fill="#eeea23"/>
<rect x="706.2" y="457.7" width="3.3" height="33.1" fill="#f5ed1b"/>
<rect x="709.5" y="457.7" width="3.3" height="33.1" fill="#f7ec18"/>
<rect x="712.8" y="457.7" width="3.3" height="33.1" fill="#f5ed1b"/>
<rect x="716.0" y="457.7" width="3.3" height="33.1" fill="#f1d41a"/>
<rect x="719.3" y="457.7" width="3.3" height="33.1" fill="#f8ed18"/>
<rect x="722.6" y="457.7" width="3.3" height="33.1" fill="#e7e72a"/>
<rect x="725.9" y="457.7" width="3.3" height="33.1" fill="#f7ea18"/>
<rect x="729.2" y="457.7" width="3.3" height="33.1" fill="#f0ce1b"/>
<rect x="732.5" y="457.7" width="3.3" height="33.1" fill="#f1d11a"/>
<rect x="735.7" y="457.7" width="3.3" height="33.1" fill="#bad35b"/>
<rect x="739.0" y="457.7" width="3.3" height="33.1" fill="#f8ed18"/>
<rect x="742.3" y="457.7" width="3.3" height="33.1" fill="#eeea23"/>
<rect x="745.6" y="457.7" width="3.3" height="33.1" fill="#e8af1d"/>
<rect x="748.9" y="457.7" width="3.3" height="33.1" fill="#f6ed1a"/>
<rect x="752.2" y="457.7" width="3.3" height="33.1" fill="#edc31c"/>
<rect x="755.4" y="457.7" width="3.3" height="33.1" fill="#efcd1b"/>
<rect x="758.7" y="457.7" width="3.3" height="33.1" fill="#f3da1a"/>
<rect x="762.0" y="457.7" width="3.3" height="33.1" fill="#c6d84e"/>
<rect x="765.3" y="457.7" width="3.3" height="33.1" fill="#eeea23"/>
<rect x="768.6" y="457.7" width="3.3" height="33.1" fill="#f7ec18"/>
<rect x="771.8" y="457.7" width="3.3" height="33.1" fill="#e5a51e"/>
<rect x="775.1" y="457.7" width="3.3" height="33.1" fill="#f5ed1b"/>
<rect x="778.4" y="457.7" width="3.3" height="33.1" fill="#f0ea21"/>
<rect x="781.7" y="457.7" width="3.3" height="33.1" fill="#f5ed1c"/>
<rect x="785.0" y="457.7" width="3.3" height="33.1" fill="#e3e52e"/>
<rect x="788.3" y="457.7" width="3.3" height="33.1" fill="#efcd1b"/>
<rect x="791.5" y="457.7" width="3.3" height="33.1" fill="#f8ee18"/>
<rect x="794.8" y="457.7" width="3.3" height="33.1" fill="#eeea23"/>
<rect x="798.1" y="457.7" width="3.3" height="33.1" fill="#e8af1d"/>
<rect x="801.4" y="457.7" width="3.3" height="33.1" fill="#f7ea18"/>
<rect x="804.7" y="457.7" width="3.3" height="33.1" fill="#e7e72a"/>
<rect x="808.0" y="457.7" width="3.3" height="33.1" fill="#e8e729"/>
<rect x="811.2" y="457.7" width="3.3" height="33.1" fill="#e3e52e"/>
<rect x="814.5" y="457.7" width="3.3" height="33.1" fill="#f6ed1a"/>
<rect x="817.8" y="457.7" width="3.3" height="33.1" fill="#efc91b"/>
<rect x="821.1" y="457.7" width="3.3" height="33.1" fill="#f0eb20"/>
<rect x="824.4" y="457.7" width="3.3" height="33.1" fill="#efcb1b"/>
<rect x="827.7" y="457.7" width="3.3" height="33.1" fill="#edc51c"/>
<rect x="831.0" y="457.7" width="3.3" height="33.1" fill="#edc31c"/>
<rect x="834.2" y="457.7" width="3.3" height="33.1" fill="#eec61b"/>
<rect x="837.5" y="457.7" width="3.3" height="33.1" fill="#edc31c"/>
<rect x="840.8" y="457.7" width="3.3" height="33.1" fill="#f2d61a"/>
<rect x="844.1" y="457.7" width="3.3" height="33.1" fill="#f2d51a"/>
<rect x="847.4" y="457.7" width="3.3" height="33.1" fill="#edc21c"/>
<rect x="850.7" y="457.7" width="3.3" height="33.1" fill="#f0cf1b"/>
<rect x="853.9" y="457.7" width="3.3" height="33.1" fill="#f7eb18"/>
<rect x="857.2" y="457.7" width="3.3" height="33.1" fill="#f6ed1a"/>
<rect x="860.5" y="457.7" width="3.3" height="33.1" fill="#e6e62b"/>
<rect x="863.8" y="457.7" width="3.3" height="33.1" fill="#e9b21d"/>
<rect x="867.1" y="457.7" width="3.3" height="33.1" fill="#f0ea21"/>
<rect x="870.3" y="457.7" width="3.3" height="33.1" fill="#f7ec18"/>
<rect x="873.6" y="457.7" width="3.3" height="33.1" fill="#e9b51d"/>
<rect x="876.9" y="457.7" width="3.3" height="33.1" fill="#e7ab1e"/>
<rect x="880.2" y="457.7" width="3.3" height="33.1" fill="#f0cf1b"/>
<rect x="883.5" y="457.7" width="3.3" height="33.1" fill="#efea21"/>
<rect x="886.8" y="457.7" width="3.3" height="33.1" fill="#f2d61a"/>
<rect x="890.0" y="457.7" width="3.3" height="33.1" fill="#e4a21f"/>
<rect x="893.3" y="457.7" width="3.3" height="33.1" fill="#e3e52e"/>
<rect x="896.6" y="457.7" width="3.3" height="33.1" fill="#e9e828"/>
<rect x="899.9" y="457.7" width="3.3" height="33.1" fill="#f8ee18"/>
<rect x="903.2" y="457.7" width="3.3" height="33.1" fill="#ece925"/>
<rect x="906.5" y="457.7" width="3.3" height="33.1" fill="#f8ed18"/>
<rect x="909.8" y="457.7" width="3.3" height="33.1" fill="#e6a91e"/>
<rect x="913.0" y="457.7" width="6.6" height="33.1" fill="#ece925"/>
<rect x="919.6" y="457.7" width="3.3" height="33.1" fill="#f3da1a"/>
<rect x="922.9" y="457.7" width="3.3" height="33.1" fill="#e4a11f"/>
<rect x="926.2" y="457.7" width="3.3" height="33.1" fill="#e3e52e"/>
<rect x="929.5" y="457.7" width="3.3" height="33.1" fill="#f2d61a"/>
<rect x="932.7" y="457.7" width="3.3" height="33.1" fill="#ece925"/>
<rect x="936.0" y="457.7" width="3.3" height="33.1" fill="#edc51c"/>
<rect x="939.3" y="457.7" width="3.3" height="33.1" fill="#f8ee18"/>
<rect x="942.6" y="457.7" width="3.3" height="33.1" fill="#f2d81a"/>
<rect x="945.9" y="457.7" width="3.3" height="33.1" fill="#eec71b"/>
<rect x="949.2" y="457.7" width="3.3" height="33.1" fill="#eeea22"/>
<rect x="952.4" y="457.7" width="3.3" height="33.1" fill="#efca1b"/>
<rect x="955.7" y="457.7" width="3.3" height="33.1" fill="#f7eb18"/>
<rect x="959.0" y="457.7" width="3.3" height="33.1" fill="#e5a21e"/>
<rect x="962.3" y="457.7" width="3.3" height="33.1" fill="#f7e918"/>
<rect x="965.6" y="457.7" width="3.3" height="33.1" fill="#f3da1a"/>
<rect x="968.8" y="457.7" width="3.3" height="33.1" fill="#f0cf1b"/>
<rect x="975.4" y="457.7" width="3.3" height="33.1" fill="#eae828"/>
<rect x="978.7" y="457.7" width="3.3" height="33.1" fill="#f2d81a"/>
<rect x="982.0" y="457.7" width="3.3" height="33.1" fill="#e6e62c"/>
<rect x="985.3" y="457.7" width="3.3" height="33.1" fill="#e8e729"/>
<rect x="988.5" y="457.7" width="3.3" height="33.1" fill="#f7ea18"/>
<rect x="991.8" y="457.7" width="3.3" height="33.1" fill="#f2d51a"/>
<rect x="995.1" y="457.7" width="3.3" height="33.1" fill="#e7ad1e"/>
<rect x="998.4" y="457.7" width="3.3" height="33.1" fill="#efca1b"/>
<rect x="1001.7" y="457.7" width="3.3" height="33.1" fill="#e6a81e"/>
<rect x="1005.0" y="457.7" width="3.3" height="33.1" fill="#df8d20"/>
<rect x="1008.2" y="457.7" width="3.3" height="33.1" fill="#e8b01d"/>
<rect x="1011.5" y="457.7" width="3.3" height="33.1" fill="#e5a51e"/>
<rect x="1014.8" y="457.7" width="3.3" height="33.1" fill="#f3db1a"/>
<rect x="1018.1" y="457.7" width="3.3" height="33.1" fill="#f2d71a"/>
<rect x="1021.4" y="457.7" width="3.3" height="33.1" fill="#e8af1d"/>
<rect x="1024.7" y="457.7" width="3.3" height="33.1" fill="#f0d01b"/>
<rect x="1028.0" y="457.7" width="3.3" height="33.1" fill="#e9b41d"/>
<rect x="1031.2" y="457.7" width="3.3" height="33.1" fill="#e09120"/>
<rect x="1034.5" y="457.7" width="3.3" height="33.1" fill="#f1d41a"/>
<rect x="1037.8" y="457.7" width="3.3" height="33.1" fill="#d87c1f"/>
<rect x="1041.1" y="457.7" width="3.3" height="33.1" fill="#eec51b"/>
<rect x="1044.4" y="457.7" width="3.3" height="33.1" fill="#e8ad1d"/>
<rect x="1047.7" y="457.7" width="3.3" height="33.1" fill="#da801f"/>
<rect x="1050.9" y="457.7" width="3.3" height="33.1" fill="#edc21c"/>
<rect x="1054.2" y="457.7" width="3.3" height="33.1" fill="#e5a51e"/>
<rect x="1057.5" y="457.7" width="3.3" height="33.1" fill="#f1d11a"/>
<rect x="1060.8" y="457.7" width="3.3" height="33.1" fill="#f8ee18"/>
<rect x="1064.1" y="457.7" width="3.3" height="33.1" fill="#e5a41e"/>
<rect x="1067.3" y="457.7" width="3.3" height="33.1" fill="#eec81b"/>
<rect x="1070.6" y="457.7" width="3.3" height="33.1" fill="#edc21c"/>
<rect x="1073.9" y="457.7" width="3.3" height="33.1" fill="#e7ac1e"/>
<rect x="1077.2" y="457.7" width="3.3" height="33.1" fill="#e9b21d"/>
<rect x="1080.5" y="457.7" width="3.3" height="33.1" fill="#e49f1f"/>
<rect x="1083.8" y="457.7" width="3.3" height="33.1" fill="#e5a31e"/>
<rect x="1087.0" y="457.7" width="3.3" height="33.1" fill="#e9b21d"/>
<rect x="1090.3" y="457.7" width="3.3" height="33.1" fill="#efc91b"/>
<rect x="1093.6" y="457.7" width="3.3" height="33.1" fill="#f1d31a"/>
<rect x="1096.9" y="457.7" width="3.3" height="33.1" fill="#e8e729"/>
<rect x="1100.2" y="457.7" width="3.3" height="33.1" fill="#e4a11f"/>
<rect x="1103.5" y="457.7" width="3.3" height="33.1" fill="#d87c1f"/>
<rect x="1106.8" y="457.7" width="3.3" height="33.1" fill="#e4a01f"/>
<rect x="1110.0" y="457.7" width="3.3" height="33.1" fill="#e6a61e"/>
<rect x="1113.3" y="457.7" width="3.3" height="33.1" fill="#e5a41e"/>
<rect x="1116.6" y="457.7" width="3.3" height="33.1" fill="#e9b41d"/>
<rect x="1119.9" y="457.7" width="3.3" height="33.1" fill="#e7a91e"/>
<rect x="1123.2" y="457.7" width="3.3" height="33.1" fill="#e7ab1e"/>
<rect x="1126.5" y="457.7" width="3.3" height="33.1" fill="#eec51b"/>
<rect x="1129.7" y="457.7" width="3.3" height="33.1" fill="#e8af1d"/>
<rect x="1133.0" y="457.7" width="3.3" height="33.1" fill="#f0cf1b"/>
<rect x="673.3" y="424.6" width="3.3" height="33.1" fill="#8fc08a"/>
<rect x="702.9" y="424.6" width="3.3" height="33.1" fill="#8fc08a"/>
<rect x="706.2" y="424.6" width="3.3" height="33.1" fill="#e6e62b"/>
<rect x="712.8" y="424.6" width="3.3" height="33.1" fill="#bbd35a"/>
<rect x="716.0" y="424.6" width="3.3" height="33.1" fill="#b3d063"/>
<rect x="719.3" y="424.6" width="3.3" height="33.1" fill="#bdd458"/>
<rect x="722.6" y="424.6" width="3.3" height="33.1" fill="#edc31c"/>
<rect x="725.9" y="424.6" width="3.3" height="33.1" fill="#ccdb48"/>
<rect x="729.2" y="424.6" width="3.3" height="33.1" fill="#e8e72a"/>
<rect x="732.5" y="424.6" width="3.3" height="33.1" fill="#f1d11a"/>
<rect x="735.7" y="424.6" width="3.3" height="33.1" fill="#c6d84f"/>
<rect x="739.0" y="424.6" width="3.3" height="33.1" fill="#8fc08a"/>
<rect x="742.3" y="424.6" width="3.3" height="33.1" fill="#b9d25d"/>
<rect x="745.6" y="424.6" width="3.3" height="33.1" fill="#8fc08a"/>
<rect x="748.9" y="424.6" width="3.3" height="33.1" fill="#ccdb48"/>
<rect x="752.2" y="424.6" width="3.3" height="33.1" fill="#eeea23"/>
<rect x="755.4" y="424.6" width="3.3" height="33.1" fill="#bed457"/>
<rect x="758.7" y="424.6" width="3.3" height="33.1" fill="#8fc08a"/>
<rect x="762.0" y="424.6" width="3.3" height="33.1" fill="#ede924"/>
<rect x="765.3" y="424.6" width="3.3" height="33.1" fill="#b5d161"/>
<rect x="768.6" y="424.6" width="3.3" height="33.1" fill="#f1eb1f"/>
<rect x="771.8" y="424.6" width="3.3" height="33.1" fill="#f3d81a"/>
<rect x="775.1" y="424.6" width="3.3" height="33.1" fill="#8fc08a"/>
<rect x="778.4" y="424.6" width="3.3" height="33.1" fill="#eeea22"/>
<rect x="781.7" y="424.6" width="3.3" height="33.1" fill="#f4ec1d"/>
<rect x="785.0" y="424.6" width="3.3" height="33.1" fill="#f8ed18"/>
<rect x="791.5" y="424.6" width="3.3" height="33.1" fill="#e7e72a"/>
<rect x="794.8" y="424.6" width="3.3" height="33.1" fill="#c1d654"/>
<rect x="798.1" y="424.6" width="3.3" height="33.1" fill="#ebe826"/>
<rect x="808.0" y="424.6" width="3.3" height="33.1" fill="#e9e729"/>
<rect x="811.2" y="424.6" width="3.3" height="33.1" fill="#f6ed1a"/>
<rect x="814.5" y="424.6" width="3.3" height="33.1" fill="#f6e819"/>
<rect x="817.8" y="424.6" width="3.3" height="33.1" fill="#8fc08a"/>
<rect x="821.1" y="424.6" width="3.3" height="33.1" fill="#eeea23"/>
<rect x="824.4" y="424.6" width="3.3" height="33.1" fill="#8fc08a"/>
<rect x="827.7" y="424.6" width="3.3" height="33.1" fill="#b8d25e"/>
<rect x="831.0" y="424.6" width="3.3" height="33.1" fill="#f3db1a"/>
<rect x="834.2" y="424.6" width="3.3" height="33.1" fill="#f7ed19"/>
<rect x="837.5" y="424.6" width="3.3" height="33.1" fill="#b8d25d"/>
<rect x="840.8" y="424.6" width="3.3" height="33.1" fill="#cddb47"/>
<rect x="844.1" y="424.6" width="3.3" height="33.1" fill="#e6e62b"/>
<rect x="847.4" y="424.6" width="3.3" height="33.1" fill="#cddb47"/>
<rect x="853.9" y="424.6" width="3.3" height="33.1" fill="#c6d84e"/>
<rect x="857.2" y="424.6" width="3.3" height="33.1" fill="#8fc08a"/>
<rect x="860.5" y="424.6" width="3.3" height="33.1" fill="#ccdb48"/>
<rect x="863.8" y="424.6" width="3.3" height="33.1" fill="#f7eb18"/>
<rect x="867.1" y="424.6" width="3.3" height="33.1" fill="#e9e828"/>
<rect x="870.3" y="424.6" width="3.3" height="33.1" fill="#8fc08a"/>
<rect x="873.6" y="424.6" width="3.3" height="33.1" fill="#ece925"/>
<rect x="883.5" y="424.6" width="3.3" height="33.1" fill="#f7ee19"/>
<rect x="886.8" y="424.6" width="3.3" height="33.1" fill="#e3e52e"/>
<rect x="890.0" y="424.6" width="3.3" height="33.1" fill="#e7e72a"/>
<rect x="893.3" y="424.6" width="3.3" height="33.1" fill="#f4ec1c"/>
<rect x="899.9" y="424.6" width="3.3" height="33.1" fill="#eae827"/>
<rect x="903.2" y="424.6" width="3.3" height="33.1" fill="#f1d31a"/>
<rect x="906.5" y="424.6" width="3.3" height="33.1" fill="#f1eb1f"/>
<rect x="909.8" y="424.6" width="3.3" height="33.1" fill="#ebe926"/>
<rect x="913.0" y="424.6" width="3.3" height="33.1" fill="#eec51b"/>
<rect x="916.3" y="424.6" width="3.3" height="33.1" fill="#f3d91a"/>
<rect x="919.6" y="424.6" width="3.3" height="33.1" fill="#f1eb20"/>
<rect x="922.9" y="424.6" width="3.3" height="33.1" fill="#c3d751"/>
<rect x="926.2" y="424.6" width="3.3" height="33.1" fill="#eec91b"/>
<rect x="929.5" y="424.6" width="3.3" height="33.1" fill="#ede924"/>
<rect x="932.7" y="424.6" width="3.3" height="33.1" fill="#e3e52f"/>
<rect x="936.0" y="424.6" width="3.3" height="33.1" fill="#c4d751"/>
<rect x="939.3" y="424.6" width="3.3" height="33.1" fill="#e7e62b"/>
<rect x="942.6" y="424.6" width="3.3" height="33.1" fill="#cddb47"/>
<rect x="945.9" y="424.6" width="3.3" height="33.1" fill="#b6d15f"/>
<rect x="949.2" y="424.6" width="3.3" height="33.1" fill="#ede924"/>
<rect x="952.4" y="424.6" width="3.3" height="33.1" fill="#e5e62d"/>
<rect x="955.7" y="424.6" width="3.3" height="33.1" fill="#eeea22"/>
<rect x="962.3" y="424.6" width="3.3" height="33.1" fill="#f4ec1d"/>
<rect x="965.6" y="424.6" width="3.3" height="33.1" fill="#b9d25d"/>
<rect x="968.8" y="424.6" width="3.3" height="33.1" fill="#f5ed1b"/>
<rect x="972.1" y="424.6" width="3.3" height="33.1" fill="#c8d94c"/>
<rect x="975.4" y="424.6" width="3.3" height="33.1" fill="#f0eb20"/>
<rect x="978.7" y="424.6" width="3.3" height="33.1" fill="#8fc08a"/>
<rect x="982.0" y="424.6" width="3.3" height="33.1" fill="#bcd459"/>
<rect x="985.3" y="424.6" width="3.3" height="33.1" fill="#e9e828"/>
<rect x="988.5" y="424.6" width="3.3" height="33.1" fill="#eae827"/>
<rect x="991.8" y="424.6" width="3.3" height="33.1" fill="#e7e72a"/>
<rect x="995.1" y="424.6" width="3.3" height="33.1" fill="#eae827"/>
<rect x="998.4" y="424.6" width="3.3" height="33.1" fill="#f7eb18"/>
<rect x="1001.7" y="424.6" width="3.3" height="33.1" fill="#efca1b"/>
<rect x="1008.2" y="424.6" width="3.3" height="33.1" fill="#f7ee19"/>
<rect x="1011.5" y="424.6" width="3.3" height="33.1" fill="#f8ee18"/>
<rect x="1014.8" y="424.6" width="3.3" height="33.1" fill="#8fc08a"/>
<rect x="1018.1" y="424.6" width="3.3" height="33.1" fill="#f2d51a"/>
<rect x="1021.4" y="424.6" width="3.3" height="33.1" fill="#f2d81a"/>
<rect x="1024.7" y="424.6" width="3.3" height="33.1" fill="#ebe826"/>
<rect x="1028.0" y="424.6" width="3.3" height="33.1" fill="#ece925"/>
<rect x="1031.2" y="424.6" width="3.3" height="33.1" fill="#f7eb18"/>
<rect x="1034.5" y="424.6" width="3.3" height="33.1" fill="#eec51b"/>
<rect x="1037.8" y="424.6" width="3.3" height="33.1" fill="#f2d51a"/>
<rect x="1041.1" y="424.6" width="3.3" height="33.1" fill="#b5d061"/>
<rect x="1044.4" y="424.6" width="3.3" height="33.1" fill="#ebe826"/>
<rect x="1047.7" y="424.6" width="3.3" height="33.1" fill="#f7ec18"/>
<rect x="1050.9" y="424.6" width="3.3" height="33.1" fill="#f0cd1b"/>
<rect x="1054.2" y="424.6" width="3.3" height="33.1" fill="#eae827"/>
<rect x="1057.5" y="424.6" width="3.3" height="33.1" fill="#f2d51a"/>
<rect x="1060.8" y="424.6" width="3.3" height="33.1" fill="#edc41c"/>
<rect x="1064.1" y="424.6" width="3.3" height="33.1" fill="#f3da1a"/>
<rect x="1067.3" y="424.6" width="3.3" height="33.1" fill="#f1d31a"/>
<rect x="1070.6" y="424.6" width="3.3" height="33.1" fill="#f3d91a"/>
<rect x="1073.9" y="424.6" width="3.3" height="33.1" fill="#eec81b"/>
<rect x="1077.2" y="424.6" width="3.3" height="33.1" fill="#c9da4b"/>
<rect x="1080.5" y="424.6" width="3.3" height="33.1" fill="#f8ed18"/>
<rect x="1083.8" y="424.6" width="3.3" height="33.1" fill="#f0cd1b"/>
<rect x="1087.0" y="424.6" width="3.3" height="33.1" fill="#edc41c"/>
<rect x="1090.3" y="424.6" width="3.3" height="33.1" fill="#f1eb1f"/>
<rect x="1093.6" y="424.6" width="3.3" height="33.1" fill="#e4e52e"/>
<rect x="1096.9" y="424.6" width="3.3" height="33.1" fill="#ede924"/>
<rect x="1100.2" y="424.6" width="3.3" height="33.1" fill="#eec61b"/>
<rect x="1103.5" y="424.6" width="3.3" height="33.1" fill="#f7ee19"/>
<rect x="1106.8" y="424.6" width="3.3" height="33.1" fill="#eec61b"/>
<rect x="1110.0" y="424.6" width="3.3" height="33.1" fill="#f1d31a"/>
<rect x="1113.3" y="424.6" width="3.3" height="33.1" fill="#efca1b"/>
<rect x="1116.6" y="424.6" width="3.3" height="33.1" fill="#e5e62c"/>
<rect x="1119.9" y="424.6" width="3.3" height="33.1" fill="#f8ed18"/>
<rect x="1123.2" y="424.6" width="3.3" height="33.1" fill="#f3d91a"/>
<rect x="1126.5" y="424.6" width="3.3" height="33.1" fill="#efcb1b"/>
<rect x="1129.7" y="424.6" width="3.3" height="33.1" fill="#efcc1b"/>
<rect x="1133.0" y="424.6" width="3.3" height="33.1" fill="#e6a81e"/>
<rect x="154.6" y="391.5" width="3.3" height="33.1" fill="#8fc08a"/>
<rect x="164.4" y="391.5" width="6.6" height="33.1" fill="#8fc08a"/>
<rect x="184.1" y="391.5" width="3.3" height="33.1" fill="#8fc08a"/>
<rect x="187.4" y="391.5" width="3.3" height="33.1" fill="#b3d063"/>
<rect x="194.0" y="391.5" width="6.6" height="33.1" fill="#8fc08a"/>
<rect x="236.7" y="391.5" width="3.3" height="33.1" fill="#c4d751"/>
<rect x="239.9" y="391.5" width="6.6" height="33.1" fill="#8fc08a"/>
<rect x="249.8" y="391.5" width="6.6" height="33.1" fill="#8fc08a"/>
<rect x="259.6" y="391.5" width="3.3" height="33.1" fill="#8fc08a"/>
<rect x="272.8" y="391.5" width="3.3" height="33.1" fill="#8fc08a"/>
<rect x="282.6" y="391.5" width="3.3" height="33.1" fill="#8fc08a"/>
<rect x="299.1" y="391.5" width="3.3" height="33.1" fill="#8fc08a"/>
<rect x="315.5" y="391.5" width="3.3" height="33.1" fill="#8fc08a"/>
<rect x="318.8" y="391.5" width="3.3" height="33.1" fill="#b6d160"/>
<rect x="358.1" y="391.5" width="3.3" height="33.1" fill="#8fc08a"/>
<rect x="387.7" y="391.5" width="3.3" height="33.1" fill="#8fc08a"/>
<rect x="394.3" y="391.5" width="3.3" height="33.1" fill="#cddb47"/>
<rect x="479.6" y="391.5" width="3.3" height="33.1" fill="#8fc08a"/>
<rect x="499.3" y="391.5" width="3.3" height="33.1" fill="#e6e62b"/>
<rect x="502.6" y="391.5" width="3.3" height="33.1" fill="#ece926"/>
<rect x="509.2" y="391.5" width="6.6" height="33.1" fill="#8fc08a"/>
<rect x="515.8" y="391.5" width="3.3" height="33.1" fill="#cddb46"/>
<rect x="519.0" y="391.5" width="6.6" height="33.1" fill="#8fc08a"/>
<rect x="525.6" y="391.5" width="3.3" height="33.1" fill="#b7d25e"/>
<rect x="528.9" y="391.5" width="3.3" height="33.1" fill="#8fc08a"/>
<rect x="532.2" y="391.5" width="3.3" height="33.1" fill="#b7d25e"/>
<rect x="538.7" y="391.5" width="3.3" height="33.1" fill="#c2d653"/>
<rect x="545.3" y="391.5" width="3.3" height="33.1" fill="#8fc08a"/>
<rect x="555.1" y="391.5" width="3.3" height="33.1" fill="#8fc08a"/>
<rect x="565.0" y="391.5" width="3.3" height="33.1" fill="#c9d94b"/>
<rect x="578.1" y="391.5" width="3.3" height="33.1" fill="#8fc08a"/>
<rect x="591.3" y="391.5" width="6.6" height="33.1" fill="#8fc08a"/>
<rect x="607.7" y="391.5" width="3.3" height="33.1" fill="#b9d25c"/>
<rect x="617.5" y="391.5" width="3.3" height="33.1" fill="#8fc08a"/>
<rect x="620.8" y="391.5" width="3.3" height="33.1" fill="#eae828"/>
<rect x="624.1" y="391.5" width="3.3" height="33.1" fill="#eeea23"/>
<rect x="630.7" y="391.5" width="3.3" height="33.1" fill="#b4d062"/>
<rect x="640.5" y="391.5" width="3.3" height="33.1" fill="#e5e62c"/>
<rect x="650.4" y="391.5" width="3.3" height="33.1" fill="#ccdb48"/>
<rect x="653.6" y="391.5" width="3.3" height="33.1" fill="#bdd458"/>
<rect x="656.9" y="391.5" width="3.3" height="33.1" fill="#8fc08a"/>
<rect x="660.2" y="391.5" width="3.3" height="33.1" fill="#c4d750"/>
<rect x="663.5" y="391.5" width="3.3" height="33.1" fill="#bbd35a"/>
<rect x="673.3" y="391.5" width="3.3" height="33.1" fill="#8fc08a"/>
<rect x="693.0" y="391.5" width="6.6" height="33.1" fill="#8fc08a"/>
<rect x="699.6" y="391.5" width="3.3" height="33.1" fill="#b3d063"/>
<rect x="709.5" y="391.5" width="3.3" height="33.1" fill="#8fc08a"/>
<rect x="729.2" y="391.5" width="3.3" height="33.1" fill="#bfd556"/>
<rect x="735.7" y="391.5" width="3.3" height="33.1" fill="#c1d654"/>
<rect x="752.2" y="391.5" width="3.3" height="33.1" fill="#8fc08a"/>
<rect x="768.6" y="391.5" width="3.3" height="33.1" fill="#8fc08a"/>
<rect x="781.7" y="391.5" width="3.3" height="33.1" fill="#8fc08a"/>
<rect x="785.0" y="391.5" width="3.3" height="33.1" fill="#f7ea18"/>
<rect x="788.3" y="391.5" width="3.3" height="33.1" fill="#8fc08a"/>
<rect x="794.8" y="391.5" width="3.3" height="33.1" fill="#8fc08a"/>
<rect x="801.4" y="391.5" width="3.3" height="33.1" fill="#bbd35a"/>
<rect x="808.0" y="391.5" width="3.3" height="33.1" fill="#8fc08a"/>
<rect x="850.7" y="391.5" width="3.3" height="33.1" fill="#c7d94d"/>
<rect x="853.9" y="391.5" width="3.3" height="33.1" fill="#8fc08a"/>
<rect x="873.6" y="391.5" width="3.3" height="33.1" fill="#bfd556"/>
<rect x="880.2" y="391.5" width="6.6" height="33.1" fill="#8fc08a"/>
<rect x="890.0" y="391.5" width="3.3" height="33.1" fill="#8fc08a"/>
<rect x="899.9" y="391.5" width="3.3" height="33.1" fill="#c4d750"/>
<rect x="906.5" y="391.5" width="3.3" height="33.1" fill="#f4ec1c"/>
<rect x="909.8" y="391.5" width="3.3" height="33.1" fill="#8fc08a"/>
<rect x="926.2" y="391.5" width="3.3" height="33.1" fill="#b5d161"/>
<rect x="929.5" y="391.5" width="3.3" height="33.1" fill="#c6d84f"/>
<rect x="945.9" y="391.5" width="3.3" height="33.1" fill="#c1d654"/>
<rect x="952.4" y="391.5" width="3.3" height="33.1" fill="#c5d84f"/>
<rect x="955.7" y="391.5" width="3.3" height="33.1" fill="#8fc08a"/>
<rect x="962.3" y="391.5" width="3.3" height="33.1" fill="#8fc08a"/>
<rect x="972.1" y="391.5" width="3.3" height="33.1" fill="#8fc08a"/>
<rect x="1001.7" y="391.5" width="3.3" height="33.1" fill="#8fc08a"/>
<rect x="1005.0" y="391.5" width="3.3" height="33.1" fill="#f7eb18"/>
<rect x="1011.5" y="391.5" width="3.3" height="33.1" fill="#8fc08a"/>
<rect x="1018.1" y="391.5" width="3.3" height="33.1" fill="#b7d15f"/>
<rect x="1024.7" y="391.5" width="3.3" height="33.1" fill="#cddb46"/>
<rect x="1031.2" y="391.5" width="3.3" height="33.1" fill="#b4d062"/>
<rect x="1034.5" y="391.5" width="3.3" height="33.1" fill="#8fc08a"/>
<rect x="1041.1" y="391.5" width="16.4" height="33.1" fill="#8fc08a"/>
<rect x="1060.8" y="391.5" width="3.3" height="33.1" fill="#c9d94b"/>
<rect x="1064.1" y="391.5" width="9.9" height="33.1" fill="#8fc08a"/>
<rect x="1077.2" y="391.5" width="9.8" height="33.1" fill="#8fc08a"/>
<rect x="1093.6" y="391.5" width="9.9" height="33.1" fill="#8fc08a"/>
<rect x="1106.8" y="391.5" width="6.6" height="33.1" fill="#8fc08a"/>
<rect x="1116.6" y="391.5" width="3.3" height="33.1" fill="#8fc08a"/>
<rect x="1123.2" y="391.5" width="9.8" height="33.1" fill="#8fc08a"/>
<rect x="1133.0" y="391.5" width="3.3" height="33.1" fill="#c1d653"/>
<rect x="151.3" y="358.4" width="6.6" height="33.1" fill="#8fc08a"/>
<rect x="157.9" y="358.4" width="3.3" height="33.1" fill="#c1d654"/>
<rect x="161.2" y="358.4" width="6.6" height="33.1" fill="#8fc08a"/>
<rect x="167.7" y="358.4" width="3.3" height="33.1" fill="#ccdb47"/>
<rect x="171.0" y="358.4" width="9.9" height="33.1" fill="#8fc08a"/>
<rect x="184.1" y="358.4" width="6.6" height="33.1" fill="#8fc08a"/>
<rect x="190.7" y="358.4" width="3.3" height="33.1" fill="#e9e729"/>
<rect x="194.0" y="358.4" width="3.3" height="33.1" fill="#8fc08a"/>
<rect x="197.3" y="358.4" width="3.3" height="33.1" fill="#f0ea21"/>
<rect x="200.6" y="358.4" width="3.3" height="33.1" fill="#c6d84e"/>
<rect x="203.8" y="358.4" width="3.3" height="33.1" fill="#8fc08a"/>
<rect x="213.7" y="358.4" width="3.3" height="33.1" fill="#ccdb48"/>
<rect x="217.0" y="358.4" width="16.4" height="33.1" fill="#8fc08a"/>
<rect x="233.4" y="358.4" width="3.3" height="33.1" fill="#cedc46"/>
<rect x="236.7" y="358.4" width="3.3" height="33.1" fill="#8fc08a"/>
<rect x="239.9" y="358.4" width="3.3" height="33.1" fill="#b9d25d"/>
<rect x="243.2" y="358.4" width="3.3" height="33.1" fill="#8fc08a"/>
<rect x="246.5" y="358.4" width="3.3" height="33.1" fill="#bad35c"/>
<rect x="253.1" y="358.4" width="6.6" height="33.1" fill="#8fc08a"/>
<rect x="259.6" y="358.4" width="3.3" height="33.1" fill="#b7d25e"/>
<rect x="262.9" y="358.4" width="3.3" height="33.1" fill="#8fc08a"/>
<rect x="266.2" y="358.4" width="3.3" height="33.1" fill="#bdd458"/>
<rect x="269.5" y="358.4" width="3.3" height="33.1" fill="#e4e52e"/>
<rect x="279.4" y="358.4" width="3.3" height="33.1" fill="#c2d653"/>
<rect x="282.6" y="358.4" width="3.3" height="33.1" fill="#bbd35a"/>
<rect x="285.9" y="358.4" width="3.3" height="33.1" fill="#b3d063"/>
<rect x="289.2" y="358.4" width="3.3" height="33.1" fill="#8fc08a"/>
<rect x="292.5" y="358.4" width="3.3" height="33.1" fill="#b9d35c"/>
<rect x="299.1" y="358.4" width="3.3" height="33.1" fill="#8fc08a"/>
<rect x="302.3" y="358.4" width="3.3" height="33.1" fill="#f7e918"/>
<rect x="305.6" y="358.4" width="3.3" height="33.1" fill="#8fc08a"/>
<rect x="308.9" y="358.4" width="3.3" height="33.1" fill="#ebe826"/>
<rect x="312.2" y="358.4" width="6.6" height="33.1" fill="#8fc08a"/>
<rect x="325.3" y="358.4" width="13.1" height="33.1" fill="#8fc08a"/>
<rect x="341.7" y="358.4" width="3.3" height="33.1" fill="#f4ec1d"/>
<rect x="348.3" y="358.4" width="9.8" height="33.1" fill="#8fc08a"/>
<rect x="358.1" y="358.4" width="3.3" height="33.1" fill="#cddb46"/>
<rect x="361.4" y="358.4" width="3.3" height="33.1" fill="#8fc08a"/>
<rect x="368.0" y="358.4" width="3.3" height="33.1" fill="#b3d063"/>
<rect x="371.3" y="358.4" width="9.9" height="33.1" fill="#8fc08a"/>
<rect x="384.4" y="358.4" width="3.3" height="33.1" fill="#8fc08a"/>
<rect x="391.0" y="358.4" width="3.3" height="33.1" fill="#bbd35a"/>
<rect x="394.3" y="358.4" width="3.3" height="33.1" fill="#c7d84d"/>
<rect x="397.6" y="358.4" width="3.3" height="33.1" fill="#cedc46"/>
<rect x="400.8" y="358.4" width="3.3" height="33.1" fill="#f5ed1b"/>
<rect x="404.1" y="358.4" width="6.6" height="33.1" fill="#8fc08a"/>
<rect x="410.7" y="358.4" width="3.3" height="33.1" fill="#bfd556"/>
<rect x="414.0" y="358.4" width="6.6" height="33.1" fill="#8fc08a"/>
<rect x="420.5" y="358.4" width="3.3" height="33.1" fill="#b7d15f"/>
<rect x="427.1" y="358.4" width="3.3" height="33.1" fill="#f7ee19"/>
<rect x="430.4" y="358.4" width="3.3" height="33.1" fill="#bbd35a"/>
<rect x="433.7" y="358.4" width="6.6" height="33.1" fill="#8fc08a"/>
<rect x="443.5" y="358.4" width="3.3" height="33.1" fill="#b9d25c"/>
<rect x="446.8" y="358.4" width="3.3" height="33.1" fill="#cddb47"/>
<rect x="450.1" y="358.4" width="3.3" height="33.1" fill="#bad35b"/>
<rect x="453.4" y="358.4" width="3.3" height="33.1" fill="#b7d15f"/>
<rect x="456.6" y="358.4" width="3.3" height="33.1" fill="#c7d94d"/>
<rect x="459.9" y="358.4" width="3.3" height="33.1" fill="#b4d062"/>
<rect x="463.2" y="358.4" width="3.3" height="33.1" fill="#8fc08a"/>
<rect x="466.5" y="358.4" width="3.3" height="33.1" fill="#f0eb20"/>
<rect x="469.8" y="358.4" width="6.6" height="33.1" fill="#8fc08a"/>
<rect x="476.4" y="358.4" width="3.3" height="33.1" fill="#c7d94d"/>
<rect x="479.6" y="358.4" width="3.3" height="33.1" fill="#b8d25d"/>
<rect x="482.9" y="358.4" width="3.3" height="33.1" fill="#bad35b"/>
<rect x="492.8" y="358.4" width="3.3" height="33.1" fill="#f2eb1e"/>
<rect x="496.1" y="358.4" width="3.3" height="33.1" fill="#8fc08a"/>
<rect x="499.3" y="358.4" width="3.3" height="33.1" fill="#cada49"/>
<rect x="502.6" y="358.4" width="3.3" height="33.1" fill="#b3d063"/>
<rect x="505.9" y="358.4" width="3.3" height="33.1" fill="#cddb46"/>
<rect x="509.2" y="358.4" width="3.3" height="33.1" fill="#8fc08a"/>
<rect x="515.8" y="358.4" width="3.3" height="33.1" fill="#ede924"/>
<rect x="565.0" y="358.4" width="3.3" height="33.1" fill="#8fc08a"/>
<rect x="568.3" y="358.4" width="3.3" height="33.1" fill="#cedc46"/>
<rect x="578.1" y="358.4" width="3.3" height="33.1" fill="#8fc08a"/>
<rect x="581.4" y="358.4" width="3.3" height="33.1" fill="#c2d652"/>
<rect x="611.0" y="358.4" width="3.3" height="33.1" fill="#8fc08a"/>
<rect x="627.4" y="358.4" width="3.3" height="33.1" fill="#8fc08a"/>
<rect x="630.7" y="358.4" width="3.3" height="33.1" fill="#cddb47"/>
<rect x="637.2" y="358.4" width="3.3" height="33.1" fill="#cddb46"/>
<rect x="640.5" y="358.4" width="3.3" height="33.1" fill="#8fc08a"/>
<rect x="643.8" y="358.4" width="3.3" height="33.1" fill="#cddb46"/>
<rect x="647.1" y="358.4" width="3.3" height="33.1" fill="#b7d25e"/>
<rect x="653.6" y="358.4" width="3.3" height="33.1" fill="#b2d064"/>
<rect x="656.9" y="358.4" width="3.3" height="33.1" fill="#efea22"/>
<rect x="660.2" y="358.4" width="3.3" height="33.1" fill="#e6e62c"/>
<rect x="663.5" y="358.4" width="3.3" height="33.1" fill="#f0eb20"/>
<rect x="666.8" y="358.4" width="3.3" height="33.1" fill="#8fc08a"/>
<rect x="670.1" y="358.4" width="3.3" height="33.1" fill="#c0d655"/>
<rect x="673.3" y="358.4" width="3.3" height="33.1" fill="#bcd459"/>
<rect x="676.6" y="358.4" width="3.3" height="33.1" fill="#c6d84e"/>
<rect x="679.9" y="358.4" width="3.3" height="33.1" fill="#bad35b"/>
<rect x="683.2" y="358.4" width="3.3" height="33.1" fill="#c4d751"/>
<rect x="686.5" y="358.4" width="3.3" height="33.1" fill="#8fc08a"/>
<rect x="689.8" y="358.4" width="3.3" height="33.1" fill="#b2cf64"/>
<rect x="693.0" y="358.4" width="3.3" height="33.1" fill="#f8ed18"/>
<rect x="696.3" y="358.4" width="3.3" height="33.1" fill="#ccdb48"/>
<rect x="699.6" y="358.4" width="3.3" height="33.1" fill="#8fc08a"/>
<rect x="702.9" y="358.4" width="3.3" height="33.1" fill="#ece925"/>
<rect x="706.2" y="358.4" width="3.3" height="33.1" fill="#cbda49"/>
<rect x="709.5" y="358.4" width="9.8" height="33.1" fill="#8fc08a"/>
<rect x="719.3" y="358.4" width="3.3" height="33.1" fill="#c0d555"/>
<rect x="722.6" y="358.4" width="3.3" height="33.1" fill="#bdd458"/>
<rect x="725.9" y="358.4" width="3.3" height="33.1" fill="#e6e62c"/>
<rect x="729.2" y="358.4" width="3.3" height="33.1" fill="#b4d062"/>
<rect x="732.5" y="358.4" width="3.3" height="33.1" fill="#c4d751"/>
<rect x="735.7" y="358.4" width="6.6" height="33.1" fill="#8fc08a"/>
<rect x="745.6" y="358.4" width="3.3" height="33.1" fill="#c4d751"/>
<rect x="748.9" y="358.4" width="3.3" height="33.1" fill="#8fc08a"/>
<rect x="755.4" y="358.4" width="3.3" height="33.1" fill="#f0eb20"/>
<rect x="758.7" y="358.4" width="3.3" height="33.1" fill="#c7d94d"/>
<rect x="762.0" y="358.4" width="3.3" height="33.1" fill="#b9d35c"/>
<rect x="765.3" y="358.4" width="3.3" height="33.1" fill="#8fc08a"/>
<rect x="768.6" y="358.4" width="3.3" height="33.1" fill="#c0d555"/>
<rect x="771.8" y="358.4" width="13.1" height="33.1" fill="#8fc08a"/>
<rect x="788.3" y="358.4" width="13.1" height="33.1" fill="#8fc08a"/>
<rect x="801.4" y="358.4" width="3.3" height="33.1" fill="#b4d062"/>
<rect x="804.7" y="358.4" width="3.3" height="33.1" fill="#f2ec1e"/>
<rect x="808.0" y="358.4" width="3.3" height="33.1" fill="#f7eb18"/>
<rect x="811.2" y="358.4" width="3.3" height="33.1" fill="#b8d25e"/>
<rect x="814.5" y="358.4" width="3.3" height="33.1" fill="#f7ea18"/>
<rect x="817.8" y="358.4" width="3.3" height="33.1" fill="#f2ec1e"/>
<rect x="821.1" y="358.4" width="3.3" height="33.1" fill="#eeea23"/>
<rect x="824.4" y="358.4" width="3.3" height="33.1" fill="#f7ec18"/>
<rect x="827.7" y="358.4" width="3.3" height="33.1" fill="#eae827"/>
<rect x="831.0" y="358.4" width="3.3" height="33.1" fill="#ebe826"/>
<rect x="834.2" y="358.4" width="3.3" height="33.1" fill="#ece925"/>
<rect x="837.5" y="358.4" width="3.3" height="33.1" fill="#f7ec18"/>
<rect x="840.8" y="358.4" width="3.3" height="33.1" fill="#ede924"/>
<rect x="844.1" y="358.4" width="3.3" height="33.1" fill="#ccdb47"/>
<rect x="847.4" y="358.4" width="3.3" height="33.1" fill="#c5d750"/>
<rect x="850.7" y="358.4" width="3.3" height="33.1" fill="#ede924"/>
<rect x="853.9" y="358.4" width="3.3" height="33.1" fill="#f7e918"/>
<rect x="857.2" y="358.4" width="3.3" height="33.1" fill="#ede924"/>
<rect x="860.5" y="358.4" width="3.3" height="33.1" fill="#f1d31a"/>
<rect x="863.8" y="358.4" width="3.3" height="33.1" fill="#c1d654"/>
<rect x="867.1" y="358.4" width="3.3" height="33.1" fill="#e9e729"/>
<rect x="870.3" y="358.4" width="3.3" height="33.1" fill="#8fc08a"/>
<rect x="873.6" y="358.4" width="3.3" height="33.1" fill="#eec71b"/>
<rect x="876.9" y="358.4" width="3.3" height="33.1" fill="#f8ed18"/>
<rect x="883.5" y="358.4" width="3.3" height="33.1" fill="#b8d25e"/>
<rect x="893.3" y="358.4" width="3.3" height="33.1" fill="#8fc08a"/>
<rect x="896.6" y="358.4" width="3.3" height="33.1" fill="#cbda49"/>
<rect x="899.9" y="358.4" width="3.3" height="33.1" fill="#8fc08a"/>
<rect x="906.5" y="358.4" width="6.6" height="33.1" fill="#8fc08a"/>
<rect x="916.3" y="358.4" width="3.3" height="33.1" fill="#b4d062"/>
<rect x="932.7" y="358.4" width="3.3" height="33.1" fill="#bfd556"/>
<rect x="939.3" y="358.4" width="3.3" height="33.1" fill="#cada4a"/>
<rect x="949.2" y="358.4" width="3.3" height="33.1" fill="#c6d84e"/>
<rect x="952.4" y="358.4" width="3.3" height="33.1" fill="#c8d94c"/>
<rect x="955.7" y="358.4" width="3.3" height="33.1" fill="#8fc08a"/>
<rect x="972.1" y="358.4" width="3.3" height="33.1" fill="#8fc08a"/>
<rect x="978.7" y="358.4" width="3.3" height="33.1" fill="#8fc08a"/>
<rect x="985.3" y="358.4" width="6.6" height="33.1" fill="#8fc08a"/>
<rect x="1014.8" y="358.4" width="3.3" height="33.1" fill="#8fc08a"/>
<rect x="1041.1" y="358.4" width="3.3" height="33.1" fill="#8fc08a"/>
<rect x="1060.8" y="358.4" width="3.3" height="33.1" fill="#8fc08a"/>
<rect x="1067.3" y="358.4" width="3.3" height="33.1" fill="#c5d850"/>
<rect x="1070.6" y="358.4" width="3.3" height="33.1" fill="#8fc08a"/>
<rect x="1080.5" y="358.4" width="3.3" height="33.1" fill="#bfd556"/>
<rect x="1100.2" y="358.4" width="3.3" height="33.1" fill="#8fc08a"/>
<rect x="394.3" y="325.3" width="3.3" height="33.1" fill="#8fc08a"/>
<rect x="565.0" y="325.3" width="3.3" height="33.1" fill="#8fc08a"/>
<rect x="620.8" y="325.3" width="3.3" height="33.1" fill="#8fc08a"/>
<rect x="627.4" y="325.3" width="3.3" height="33.1" fill="#8fc08a"/>
<rect x="637.2" y="325.3" width="3.3" height="33.1" fill="#8fc08a"/>
<rect x="666.8" y="325.3" width="6.6" height="33.1" fill="#8fc08a"/>
<rect x="673.3" y="325.3" width="3.3" height="33.1" fill="#eeea23"/>
<rect x="676.6" y="325.3" width="3.3" height="33.1" fill="#c8d94c"/>
<rect x="679.9" y="325.3" width="3.3" height="33.1" fill="#cada49"/>
<rect x="683.2" y="325.3" width="3.3" height="33.1" fill="#c1d654"/>
<rect x="686.5" y="325.3" width="3.3" height="33.1" fill="#eae828"/>
<rect x="689.8" y="325.3" width="13.1" height="33.1" fill="#8fc08a"/>
<rect x="702.9" y="325.3" width="3.3" height="33.1" fill="#e4e52e"/>
<rect x="706.2" y="325.3" width="6.6" height="33.1" fill="#8fc08a"/>
<rect x="712.8" y="325.3" width="3.3" height="33.1" fill="#f5ec1c"/>
<rect x="719.3" y="325.3" width="3.3" height="33.1" fill="#e9e728"/>
<rect x="722.6" y="325.3" width="3.3" height="33.1" fill="#8fc08a"/>
<rect x="725.9" y="325.3" width="3.3" height="33.1" fill="#bcd459"/>
<rect x="729.2" y="325.3" width="3.3" height="33.1" fill="#8fc08a"/>
<rect x="732.5" y="325.3" width="3.3" height="33.1" fill="#f3ec1e"/>
<rect x="735.7" y="325.3" width="3.3" height="33.1" fill="#efea22"/>
<rect x="739.0" y="325.3" width="3.3" height="33.1" fill="#efea21"/>
<rect x="742.3" y="325.3" width="3.3" height="33.1" fill="#f8ee18"/>
<rect x="745.6" y="325.3" width="3.3" height="33.1" fill="#eeea23"/>
<rect x="748.9" y="325.3" width="3.3" height="33.1" fill="#bcd459"/>
<rect x="752.2" y="325.3" width="3.3" height="33.1" fill="#f6e819"/>
<rect x="755.4" y="325.3" width="3.3" height="33.1" fill="#8fc08a"/>
<rect x="765.3" y="325.3" width="3.3" height="33.1" fill="#bed557"/>
<rect x="771.8" y="325.3" width="3.3" height="33.1" fill="#b3d063"/>
<rect x="775.1" y="325.3" width="3.3" height="33.1" fill="#c8d94c"/>
<rect x="778.4" y="325.3" width="3.3" height="33.1" fill="#f6ed1b"/>
<rect x="781.7" y="325.3" width="3.3" height="33.1" fill="#e5e62c"/>
<rect x="788.3" y="325.3" width="3.3" height="33.1" fill="#8fc08a"/>
<rect x="791.5" y="325.3" width="3.3" height="33.1" fill="#eee923"/>
<rect x="794.8" y="325.3" width="3.3" height="33.1" fill="#ece925"/>
<rect x="798.1" y="325.3" width="3.3" height="33.1" fill="#c8d94c"/>
<rect x="804.7" y="325.3" width="3.3" height="33.1" fill="#c7d94d"/>
<rect x="808.0" y="325.3" width="3.3" height="33.1" fill="#f8ed18"/>
<rect x="811.2" y="325.3" width="3.3" height="33.1" fill="#f2ec1e"/>
<rect x="814.5" y="325.3" width="3.3" height="33.1" fill="#f8ee18"/>
<rect x="821.1" y="325.3" width="3.3" height="33.1" fill="#bed457"/>
<rect x="824.4" y="325.3" width="6.6" height="33.1" fill="#8fc08a"/>
<rect x="831.0" y="325.3" width="3.3" height="33.1" fill="#c7d94d"/>
<rect x="837.5" y="325.3" width="9.8" height="33.1" fill="#8fc08a"/>
<rect x="847.4" y="325.3" width="3.3" height="33.1" fill="#e3e52e"/>
<rect x="853.9" y="325.3" width="3.3" height="33.1" fill="#b8d25e"/>
<rect x="857.2" y="325.3" width="3.3" height="33.1" fill="#e9e728"/>
<rect x="860.5" y="325.3" width="3.3" height="33.1" fill="#e9e729"/>
<rect x="867.1" y="325.3" width="3.3" height="33.1" fill="#bad35b"/>
<rect x="870.3" y="325.3" width="3.3" height="33.1" fill="#f6ed1a"/>
<rect x="876.9" y="325.3" width="3.3" height="33.1" fill="#c3d751"/>
<rect x="880.2" y="325.3" width="3.3" height="33.1" fill="#e9e729"/>
<rect x="883.5" y="325.3" width="3.3" height="33.1" fill="#b7d15f"/>
<rect x="886.8" y="325.3" width="3.3" height="33.1" fill="#f0eb20"/>
<rect x="896.6" y="325.3" width="3.3" height="33.1" fill="#f7e918"/>
<rect x="899.9" y="325.3" width="3.3" height="33.1" fill="#8fc08a"/>
<rect x="903.2" y="325.3" width="3.3" height="33.1" fill="#f7e918"/>
<rect x="906.5" y="325.3" width="3.3" height="33.1" fill="#e8e72a"/>
<rect x="909.8" y="325.3" width="3.3" height="33.1" fill="#f4ec1d"/>
<rect x="913.0" y="325.3" width="3.3" height="33.1" fill="#f7ea18"/>
<rect x="916.3" y="325.3" width="3.3" height="33.1" fill="#ccdb47"/>
<rect x="919.6" y="325.3" width="3.3" height="33.1" fill="#f7e918"/>
<rect x="922.9" y="325.3" width="3.3" height="33.1" fill="#f6ed1a"/>
<rect x="926.2" y="325.3" width="3.3" height="33.1" fill="#8fc08a"/>
<rect x="929.5" y="325.3" width="3.3" height="33.1" fill="#f0ea21"/>
<rect x="932.7" y="325.3" width="3.3" height="33.1" fill="#e8e729"/>
<rect x="936.0" y="325.3" width="3.3" height="33.1" fill="#efcc1b"/>
<rect x="939.3" y="325.3" width="3.3" height="33.1" fill="#ece925"/>
<rect x="942.6" y="325.3" width="3.3" height="33.1" fill="#cedb46"/>
<rect x="945.9" y="325.3" width="3.3" height="33.1" fill="#eec61b"/>
<rect x="949.2" y="325.3" width="3.3" height="33.1" fill="#f7eb18"/>
<rect x="952.4" y="325.3" width="3.3" height="33.1" fill="#f7ec18"/>
<rect x="955.7" y="325.3" width="3.3" height="33.1" fill="#edc41c"/>
<rect x="959.0" y="325.3" width="3.3" height="33.1" fill="#b4d061"/>
<rect x="962.3" y="325.3" width="3.3" height="33.1" fill="#e9e828"/>
<rect x="965.6" y="325.3" width="3.3" height="33.1" fill="#efc91b"/>
<rect x="968.8" y="325.3" width="3.3" height="33.1" fill="#c8d94c"/>
<rect x="972.1" y="325.3" width="3.3" height="33.1" fill="#f3ec1e"/>
<rect x="975.4" y="325.3" width="3.3" height="33.1" fill="#f7e918"/>
<rect x="978.7" y="325.3" width="3.3" height="33.1" fill="#f8ed18"/>
<rect x="982.0" y="325.3" width="3.3" height="33.1" fill="#f1eb20"/>
<rect x="985.3" y="325.3" width="3.3" height="33.1" fill="#c5d84f"/>
<rect x="988.5" y="325.3" width="3.3" height="33.1" fill="#f7ec18"/>
<rect x="991.8" y="325.3" width="3.3" height="33.1" fill="#f3ec1e"/>
<rect x="995.1" y="325.3" width="3.3" height="33.1" fill="#efc91b"/>
<rect x="998.4" y="325.3" width="3.3" height="33.1" fill="#efcc1b"/>
<rect x="1001.7" y="325.3" width="3.3" height="33.1" fill="#bad35b"/>
<rect x="1005.0" y="325.3" width="3.3" height="33.1" fill="#f7ea18"/>
<rect x="1008.2" y="325.3" width="3.3" height="33.1" fill="#f3ec1d"/>
<rect x="1011.5" y="325.3" width="3.3" height="33.1" fill="#ebe926"/>
<rect x="1014.8" y="325.3" width="3.3" height="33.1" fill="#8fc08a"/>
<rect x="1044.4" y="325.3" width="3.3" height="33.1" fill="#c2d653"/>
<rect x="1050.9" y="325.3" width="3.3" height="33.1" fill="#8fc08a"/>
<rect x="1054.2" y="325.3" width="3.3" height="33.1" fill="#b4d062"/>
<rect x="1057.5" y="325.3" width="3.3" height="33.1" fill="#8fc08a"/>
<rect x="1060.8" y="325.3" width="3.3" height="33.1" fill="#cbda49"/>
<rect x="1064.1" y="325.3" width="6.6" height="33.1" fill="#8fc08a"/>
<rect x="1083.8" y="325.3" width="3.3" height="33.1" fill="#e4e52e"/>
<rect x="1087.0" y="325.3" width="3.3" height="33.1" fill="#bdd459"/>
<rect x="1090.3" y="325.3" width="3.3" height="33.1" fill="#8fc08a"/>
<rect x="1096.9" y="325.3" width="3.3" height="33.1" fill="#8fc08a"/>
<rect x="1103.5" y="325.3" width="3.3" height="33.1" fill="#8fc08a"/>
<rect x="1106.8" y="325.3" width="3.3" height="33.1" fill="#b3d063"/>
<rect x="341.7" y="292.2" width="3.3" height="33.1" fill="#8fc08a"/>
<rect x="446.8" y="292.2" width="3.3" height="33.1" fill="#8fc08a"/>
<rect x="725.9" y="292.2" width="3.3" height="33.1" fill="#8fc08a"/>
<rect x="972.1" y="292.2" width="3.3" height="33.1" fill="#8fc08a"/>
<rect x="998.4" y="292.2" width="6.6" height="33.1" fill="#8fc08a"/>
<rect x="1021.4" y="292.2" width="3.3" height="33.1" fill="#8fc08a"/>
<rect x="1123.2" y="292.2" width="3.3" height="33.1" fill="#8fc08a"/>
<rect x="716.0" y="259.1" width="3.3" height="33.1" fill="#8fc08a"/>
<rect x="903.2" y="259.1" width="3.3" height="33.1" fill="#8fc08a"/>
<rect x="1067.3" y="259.1" width="3.3" height="33.1" fill="#8fc08a"/>
<rect x="1123.2" y="259.1" width="3.3" height="33.1" fill="#8fc08a"/>
<rect x="673.3" y="226.0" width="3.3" height="33.1" fill="#8fc08a"/>
<rect x="952.4" y="226.0" width="3.3" height="33.1" fill="#8fc08a"/>
<rect x="1129.7" y="226.0" width="3.3" height="33.1" fill="#8fc08a"/>
<rect x="735.7" y="192.9" width="3.3" height="33.1" fill="#8fc08a"/>
<rect x="1100.2" y="192.9" width="3.3" height="33.1" fill="#8fc08a"/>
<rect x="670.1" y="159.8" width="3.3" height="33.1" fill="#8fc08a"/>
<rect x="706.2" y="159.8" width="3.3" height="33.1" fill="#8fc08a"/>
<rect x="735.7" y="159.8" width="3.3" height="33.1" fill="#8fc08a"/>
</g>
<!-- dashed lines -->
<g stroke="#fcec14" stroke-width="5.3" stroke-dasharray="19.7 19.9" fill="none">
<line x1="294" y1="645.3" x2="294" y2="127"/><line x1="638.3" y1="645.3" x2="638.3" y2="127"/><line x1="691" y1="645.3" x2="691" y2="127"/><line x1="1035.5" y1="645.3" x2="1035.5" y2="127"/>
</g>
<line x1="664.6" y1="645.3" x2="664.6" y2="127" stroke="#b5121b" stroke-width="5.3" stroke-dasharray="19.7 19.9"/>

<!-- Emax line -->
<path fill="none" stroke="#fff" stroke-width="5.4" stroke-linejoin="round" stroke-linecap="round" d="M150.0,358.3 C153.7,360.0 153.7,359.7 161.0,363.3 C168.3,366.9 163.7,366.4 172.0,369.0 C180.3,371.6 174.8,370.6 186.0,371.0 C197.2,371.4 193.5,372.0 205.5,370.3 C217.5,368.6 210.8,367.9 222.0,366.0 C233.2,364.1 227.8,364.5 239.0,364.7 C250.2,364.9 244.5,365.8 255.5,366.7 C266.5,367.6 260.8,368.2 272.0,367.5 C283.2,366.8 278.7,366.1 289.0,364.7 C299.3,363.3 293.8,363.0 303.0,363.3 C312.2,363.6 306.7,363.2 316.7,365.5 C326.7,367.8 321.9,367.1 333.0,370.3 C344.1,373.5 340.7,373.3 350.0,375.0 C359.3,376.7 351.7,376.5 361.0,375.5 C370.3,374.5 366.9,374.7 378.0,372.0 C389.1,369.3 383.4,369.9 394.4,367.5 C405.4,365.1 399.8,365.9 411.0,364.7 C422.2,363.5 416.9,364.0 428.0,364.0 C439.1,364.0 430.6,363.5 444.4,364.7 C458.2,365.9 451.9,365.6 469.4,367.5 C486.9,369.4 478.5,368.9 497.0,370.3 C515.5,371.7 506.3,371.2 525.0,371.7 C543.7,372.2 536.3,372.2 553.0,371.7 C569.7,371.2 561.2,370.1 575.0,370.3 C588.8,370.5 580.5,372.2 594.4,372.2 C608.3,372.2 602.8,371.6 616.7,370.3 C630.6,369.0 624.6,369.5 636.0,368.3 C647.4,367.1 642.7,371.1 651.0,366.7 C659.3,362.3 653.4,362.1 660.8,355.0 C668.2,347.9 663.6,347.6 673.3,345.3 C683.0,343.0 678.0,346.8 690.0,348.0 C702.0,349.2 695.5,350.3 709.4,348.9 C723.3,347.5 717.8,346.0 731.7,343.9 C745.6,341.8 737.1,343.0 751.0,342.5 C764.9,342.0 758.4,341.9 773.3,342.5 C788.2,343.1 780.8,343.5 795.6,344.4 C810.4,345.3 806.7,343.4 817.8,345.3 C828.9,347.2 819.7,349.4 829.0,350.0 C838.3,350.6 833.6,347.2 845.6,347.2 C857.6,347.2 850.2,350.2 865.0,350.0 C879.8,349.8 872.4,348.9 890.0,346.7 C907.6,344.5 899.3,345.2 917.8,343.3 C936.3,341.4 927.1,342.6 945.6,341.1 C964.1,339.6 954.8,340.3 973.3,338.9 C991.8,337.5 986.2,339.5 1001.0,337.0 C1015.8,334.5 1007.6,334.8 1017.8,331.4 C1028.0,328.0 1021.6,327.6 1031.7,326.7 C1041.8,325.8 1034.1,328.4 1048.0,328.6 C1061.9,328.8 1053.7,327.7 1073.3,327.2 C1092.9,326.7 1085.5,327.4 1106.7,327.2 C1127.9,327.0 1126.9,326.9 1137.0,326.7"/>

<!-- arrows -->
<g fill="#fff" stroke="#fff">
<line x1="319.8" y1="311.4" x2="348.4" y2="361.5" stroke-width="7"/><path d="M0,0 L-12.7,-33 L-3.5,-26 L3.5,-26 L12.7,-33 Z" transform="translate(358.3,378.9) rotate(330.3)" stroke="none"/>
<line x1="537.3" y1="299.1" x2="566.3" y2="349.6" stroke-width="7"/><path d="M0,0 L-12.7,-33 L-3.5,-26 L3.5,-26 L12.7,-33 Z" transform="translate(576.3,366.9) rotate(330.1)" stroke="none"/>
<line x1="733.2" y1="271.4" x2="761.5" y2="321.4" stroke-width="7"/><path d="M0,0 L-12.7,-33 L-3.5,-26 L3.5,-26 L12.7,-33 Z" transform="translate(771.3,338.8) rotate(330.5)" stroke="none"/>
<line x1="910.2" y1="266.4" x2="939.1" y2="317.7" stroke-width="7"/><path d="M0,0 L-12.7,-33 L-3.5,-26 L3.5,-26 L12.7,-33 Z" transform="translate(948.9,335.1) rotate(330.6)" stroke="none"/>
</g>

<!-- annotation text -->

<!-- spectrogram axes ticks -->
<g stroke="#333" stroke-width="1.4" id="sticks">
<line x1="152.2" y1="646.2" x2="152.2" y2="652.5"/>
<line x1="152.2" y1="127.0" x2="152.2" y2="120.7"/>
<line x1="201.3" y1="646.2" x2="201.3" y2="650.2"/>
<line x1="201.3" y1="127.0" x2="201.3" y2="123.0"/>
<line x1="250.5" y1="646.2" x2="250.5" y2="650.2"/>
<line x1="250.5" y1="127.0" x2="250.5" y2="123.0"/>
<line x1="299.6" y1="646.2" x2="299.6" y2="650.2"/>
<line x1="299.6" y1="127.0" x2="299.6" y2="123.0"/>
<line x1="348.8" y1="646.2" x2="348.8" y2="650.2"/>
<line x1="348.8" y1="127.0" x2="348.8" y2="123.0"/>
<line x1="397.9" y1="646.2" x2="397.9" y2="652.5"/>
<line x1="397.9" y1="127.0" x2="397.9" y2="120.7"/>
<line x1="447.1" y1="646.2" x2="447.1" y2="650.2"/>
<line x1="447.1" y1="127.0" x2="447.1" y2="123.0"/>
<line x1="496.2" y1="646.2" x2="496.2" y2="650.2"/>
<line x1="496.2" y1="127.0" x2="496.2" y2="123.0"/>
<line x1="545.4" y1="646.2" x2="545.4" y2="650.2"/>
<line x1="545.4" y1="127.0" x2="545.4" y2="123.0"/>
<line x1="594.5" y1="646.2" x2="594.5" y2="650.2"/>
<line x1="594.5" y1="127.0" x2="594.5" y2="123.0"/>
<line x1="643.7" y1="646.2" x2="643.7" y2="652.5"/>
<line x1="643.7" y1="127.0" x2="643.7" y2="120.7"/>
<line x1="692.8" y1="646.2" x2="692.8" y2="650.2"/>
<line x1="692.8" y1="127.0" x2="692.8" y2="123.0"/>
<line x1="742.0" y1="646.2" x2="742.0" y2="650.2"/>
<line x1="742.0" y1="127.0" x2="742.0" y2="123.0"/>
<line x1="791.1" y1="646.2" x2="791.1" y2="650.2"/>
<line x1="791.1" y1="127.0" x2="791.1" y2="123.0"/>
<line x1="840.3" y1="646.2" x2="840.3" y2="650.2"/>
<line x1="840.3" y1="127.0" x2="840.3" y2="123.0"/>
<line x1="889.5" y1="646.2" x2="889.5" y2="652.5"/>
<line x1="889.5" y1="127.0" x2="889.5" y2="120.7"/>
<line x1="938.6" y1="646.2" x2="938.6" y2="650.2"/>
<line x1="938.6" y1="127.0" x2="938.6" y2="123.0"/>
<line x1="987.8" y1="646.2" x2="987.8" y2="650.2"/>
<line x1="987.8" y1="127.0" x2="987.8" y2="123.0"/>
<line x1="1036.9" y1="646.2" x2="1036.9" y2="650.2"/>
<line x1="1036.9" y1="127.0" x2="1036.9" y2="123.0"/>
<line x1="1086.0" y1="646.2" x2="1086.0" y2="650.2"/>
<line x1="1086.0" y1="127.0" x2="1086.0" y2="123.0"/>
<line x1="1135.2" y1="646.2" x2="1135.2" y2="652.5"/>
<line x1="1135.2" y1="127.0" x2="1135.2" y2="120.7"/>
<line x1="151.0" y1="645.2" x2="144.0" y2="645.2"/>
<line x1="1136.3" y1="645.2" x2="1143.3" y2="645.2"/>
<line x1="151.0" y1="581.8" x2="147.0" y2="581.8"/>
<line x1="1136.3" y1="581.8" x2="1140.3" y2="581.8"/>
<line x1="151.0" y1="544.8" x2="147.0" y2="544.8"/>
<line x1="1136.3" y1="544.8" x2="1140.3" y2="544.8"/>
<line x1="151.0" y1="518.5" x2="147.0" y2="518.5"/>
<line x1="1136.3" y1="518.5" x2="1140.3" y2="518.5"/>
<line x1="151.0" y1="498.1" x2="147.0" y2="498.1"/>
<line x1="1136.3" y1="498.1" x2="1140.3" y2="498.1"/>
<line x1="151.0" y1="481.4" x2="147.0" y2="481.4"/>
<line x1="1136.3" y1="481.4" x2="1140.3" y2="481.4"/>
<line x1="151.0" y1="467.3" x2="147.0" y2="467.3"/>
<line x1="1136.3" y1="467.3" x2="1140.3" y2="467.3"/>
<line x1="151.0" y1="455.1" x2="147.0" y2="455.1"/>
<line x1="1136.3" y1="455.1" x2="1140.3" y2="455.1"/>
<line x1="151.0" y1="444.3" x2="147.0" y2="444.3"/>
<line x1="1136.3" y1="444.3" x2="1140.3" y2="444.3"/>
<line x1="151.0" y1="434.7" x2="144.0" y2="434.7"/>
<line x1="1136.3" y1="434.7" x2="1143.3" y2="434.7"/>
<line x1="151.0" y1="371.3" x2="147.0" y2="371.3"/>
<line x1="1136.3" y1="371.3" x2="1140.3" y2="371.3"/>
<line x1="151.0" y1="334.3" x2="147.0" y2="334.3"/>
<line x1="1136.3" y1="334.3" x2="1140.3" y2="334.3"/>
<line x1="151.0" y1="308.0" x2="147.0" y2="308.0"/>
<line x1="1136.3" y1="308.0" x2="1140.3" y2="308.0"/>
<line x1="151.0" y1="287.6" x2="147.0" y2="287.6"/>
<line x1="1136.3" y1="287.6" x2="1140.3" y2="287.6"/>
<line x1="151.0" y1="270.9" x2="147.0" y2="270.9"/>
<line x1="1136.3" y1="270.9" x2="1140.3" y2="270.9"/>
<line x1="151.0" y1="256.8" x2="147.0" y2="256.8"/>
<line x1="1136.3" y1="256.8" x2="1140.3" y2="256.8"/>
<line x1="151.0" y1="244.6" x2="147.0" y2="244.6"/>
<line x1="1136.3" y1="244.6" x2="1140.3" y2="244.6"/>
<line x1="151.0" y1="233.8" x2="147.0" y2="233.8"/>
<line x1="1136.3" y1="233.8" x2="1140.3" y2="233.8"/>
<line x1="151.0" y1="224.2" x2="144.0" y2="224.2"/>
<line x1="1136.3" y1="224.2" x2="1143.3" y2="224.2"/>
<line x1="151.0" y1="160.8" x2="147.0" y2="160.8"/>
<line x1="1136.3" y1="160.8" x2="1140.3" y2="160.8"/>
</g>





<text transform="translate(679.47,31.00) scale(0.9444,1)" font-size="31.2" class="bk"  xml:space="preserve">eflux (eV/[cm</text>
<text transform="translate(852.18,16.20) scale(0.7376,1)" font-size="24.5" class="bk"  xml:space="preserve">2</text>
<text transform="translate(870.53,31.00) scale(0.9259,1)" font-size="31.2" class="bk"  xml:space="preserve">s sr eV])</text>
<text transform="translate(999.26,31.00) scale(0.9428,1)" font-size="31.2" class="bk"  xml:space="preserve">Log Scale</text>
<text transform="translate(660.06,105.60) scale(0.9300,1)" font-size="30.6" class="tk"  xml:space="preserve">3</text>
<text transform="translate(737.96,105.60) scale(0.9300,1)" font-size="30.6" class="tk"  xml:space="preserve">4</text>
<text transform="translate(815.91,105.60) scale(0.9300,1)" font-size="30.6" class="tk"  xml:space="preserve">5</text>
<text transform="translate(894.41,105.60) scale(0.9300,1)" font-size="30.6" class="tk"  xml:space="preserve">6</text>
<text transform="translate(972.46,105.60) scale(0.9300,1)" font-size="30.6" class="tk"  xml:space="preserve">7</text>
<text transform="translate(1051.19,105.60) scale(0.9300,1)" font-size="30.6" class="tk"  xml:space="preserve">8</text>
<text transform="translate(1128.46,105.60) scale(0.9300,1)" font-size="30.6" class="tk"  xml:space="preserve">9</text>
<text transform="translate(88.41,140.80) scale(0.9024,1)" font-size="36.7" class="bk"  xml:space="preserve">(a)</text>
<text transform="translate(1174.93,140.80) scale(0.8811,1)" font-size="37.0" class="bk"  xml:space="preserve">(b)</text>
<text transform="translate(83.01,240.60) scale(0.9639,1)" font-size="33.6" class="tk"  xml:space="preserve">10</text>
<text transform="translate(118.39,226.10) scale(0.8300,1)" font-size="26.6" class="tk"  xml:space="preserve">4</text>
<text transform="translate(83.01,451.10) scale(0.9639,1)" font-size="33.6" class="tk"  xml:space="preserve">10</text>
<text transform="translate(118.28,436.60) scale(0.8300,1)" font-size="26.6" class="tk"  xml:space="preserve">3</text>
<text transform="translate(83.01,661.60) scale(0.9639,1)" font-size="33.6" class="tk"  xml:space="preserve">10</text>
<text transform="translate(118.39,647.10) scale(0.8300,1)" font-size="26.6" class="tk"  xml:space="preserve">2</text>
<text transform="translate(26.50,525.15) rotate(-90) scale(1.0190,1)" font-size="33.0" class="tk"  xml:space="preserve">STATIC(H) A14D1</text>
<text transform="translate(62.90,467.08) rotate(-90) scale(1.0035,1)" font-size="32.0" class="tk"  xml:space="preserve">Energy (eV)</text>
<text transform="translate(112.70,706.90) scale(0.9837,1)" font-size="33.0" class="bk"  xml:space="preserve">19:55</text>
<text transform="translate(359.30,706.90) scale(0.9837,1)" font-size="33.0" class="bk"  xml:space="preserve">20:00</text>
<text transform="translate(604.80,706.90) scale(0.9837,1)" font-size="33.0" class="bk"  xml:space="preserve">20:05</text>
<text transform="translate(851.10,706.90) scale(0.9837,1)" font-size="33.0" class="bk"  xml:space="preserve">20:10</text>
<text transform="translate(1096.10,706.90) scale(0.9837,1)" font-size="33.0" class="bk"  xml:space="preserve">20:15</text>
<text transform="translate(77.59,741.00) scale(0.9916,1)" font-size="33.0" class="bk"  xml:space="preserve">2016/07/19</text>
<text transform="translate(554.38,677.90) scale(0.9633,1)" font-size="34.3" fill="#b5121b" stroke="#b5121b" stroke-width="0.7" xml:space="preserve">Shock:20:05:26</text>
<text transform="translate(1486.28,113.20) scale(0.8989,1)" font-size="36.0" class="bk"  xml:space="preserve">A14D1</text>
<text transform="translate(1268.43,690.10) scale(0.9500,1)" font-size="32.5" class="tk"  xml:space="preserve">0</text>
<text transform="translate(1246.38,657.10) scale(0.9500,1)" font-size="33.0" class="tk"  xml:space="preserve">0</text>
<text transform="translate(1371.45,690.10) scale(0.9500,1)" font-size="32.5" class="tk"  xml:space="preserve">1</text>
<text transform="translate(1246.69,553.56) scale(0.9500,1)" font-size="33.0" class="tk"  xml:space="preserve">1</text>
<text transform="translate(1475.47,690.10) scale(0.9500,1)" font-size="32.5" class="tk"  xml:space="preserve">2</text>
<text transform="translate(1246.54,450.02) scale(0.9500,1)" font-size="33.0" class="tk"  xml:space="preserve">2</text>
<text transform="translate(1578.79,690.10) scale(0.9500,1)" font-size="32.5" class="tk"  xml:space="preserve">3</text>
<text transform="translate(1246.22,346.48) scale(0.9500,1)" font-size="33.0" class="tk"  xml:space="preserve">3</text>
<text transform="translate(1682.43,690.10) scale(0.9500,1)" font-size="32.5" class="tk"  xml:space="preserve">4</text>
<text transform="translate(1245.75,242.94) scale(0.9500,1)" font-size="33.0" class="tk"  xml:space="preserve">4</text>
<text transform="translate(1785.75,690.10) scale(0.9500,1)" font-size="32.5" class="tk"  xml:space="preserve">5</text>
<text transform="translate(1246.22,139.40) scale(0.9500,1)" font-size="33.0" class="tk"  xml:space="preserve">5</text>
<text transform="translate(1228.10,549.24) rotate(-90) scale(0.9857,1)" font-size="33.3" class="tk"  xml:space="preserve">Observed energy (keV)</text>
<text transform="translate(1335.81,733.30) scale(0.9614,1)" font-size="34.2" class="tk"  xml:space="preserve">Energy gained from E (keV)</text>
<text transform="translate(1381.14,585.50) scale(1.0664,1)" font-size="32.0" fill="#b5121b" style="font-weight:normal" stroke="#b5121b" stroke-width="0.4" xml:space="preserve">slope=1.02±0.16</text>
<text transform="translate(1380.49,626.40) scale(1.0444,1)" font-size="31.4" fill="#b5121b" style="font-weight:normal" stroke="#b5121b" stroke-width="0.4" xml:space="preserve">CC=0.96</text>
<text transform="translate(166.74,340.30) scale(1.0494,1)" font-size="48.6" fill="#fff" stroke="#fff" stroke-width="0.6" xml:space="preserve">E</text>
<text transform="translate(200.78,347.20) scale(1.3237,1)" font-size="27.7" fill="#fff" stroke="#fff" stroke-width="0.6" xml:space="preserve">max</text>
<text transform="translate(415.36,286.00) scale(0.9623,1)" font-size="44.3" fill="#fff" stroke="#fff" stroke-width="0.6" xml:space="preserve">Pickup H</text>
<text transform="translate(588.14,269.20) scale(1.0036,1)" font-size="33.0" fill="#fff" style="font-weight:normal" stroke="#fff" stroke-width="0.8" xml:space="preserve">+</text>
<!-- right panel -->


<g id="rp">
<g stroke="#9a9a9a" stroke-width="3.1" fill="none">
<path d="M1487.0,362.5 V447.0 M1477.0,362.5 H1497.0 M1477.0,447.0 H1497.0"/>
<path d="M1481.0,405.5 H1493.0 M1481.0,400.0 V411.0 M1493.0,400.0 V411.0"/>
<circle cx="1487.0" cy="405.5" r="5.0"/>
<path d="M1492.0,362.5 V447.0 M1482.0,362.5 H1502.0 M1482.0,447.0 H1502.0"/>
<path d="M1486.0,405.5 H1498.0 M1486.0,400.0 V411.0 M1498.0,400.0 V411.0"/>
<circle cx="1492.0" cy="405.5" r="5.0"/>
<path d="M1497.5,362.5 V447.0 M1487.5,362.5 H1507.5 M1487.5,447.0 H1507.5"/>
<path d="M1491.5,405.5 H1503.5 M1491.5,400.0 V411.0 M1503.5,400.0 V411.0"/>
<circle cx="1497.5" cy="405.5" r="5.0"/>
</g>
<g stroke="#9a9a9a" stroke-width="3.1" fill="none">
<path d="M1475.5,416.4 V469.0 M1465.0,416.4 H1486.0 M1465.0,469.0 H1486.0"/>
<path d="M1478.6,416.4 V469.0 M1468.1,416.4 H1489.1 M1468.1,469.0 H1489.1"/>
<path d="M1481.8,416.4 V469.0 M1471.2,416.4 H1492.2 M1471.2,469.0 H1492.2"/>
<path d="M1484.9,416.4 V469.0 M1474.4,416.4 H1495.4 M1474.4,469.0 H1495.4"/>
<path d="M1488.0,416.4 V469.0 M1477.5,416.4 H1498.5 M1477.5,469.0 H1498.5"/>
<path d="M1491.1,416.4 V469.0 M1480.6,416.4 H1501.6 M1480.6,469.0 H1501.6"/>
<path d="M1494.2,416.4 V469.0 M1483.8,416.4 H1504.8 M1483.8,469.0 H1504.8"/>
<path d="M1497.4,416.4 V469.0 M1486.9,416.4 H1507.9 M1486.9,469.0 H1507.9"/>
<path d="M1500.5,416.4 V469.0 M1490.0,416.4 H1511.0 M1490.0,469.0 H1511.0"/>
<circle cx="1472.0" cy="440.0" r="5.0"/>
<circle cx="1476.0" cy="440.0" r="5.0"/>
<circle cx="1480.0" cy="440.0" r="5.0"/>
<circle cx="1484.0" cy="440.0" r="5.0"/>
<circle cx="1488.0" cy="440.0" r="5.0"/>
<circle cx="1492.0" cy="440.0" r="5.0"/>
<circle cx="1496.0" cy="440.0" r="5.0"/>
<circle cx="1500.0" cy="440.0" r="5.0"/>
<circle cx="1504.0" cy="440.0" r="5.0"/>
<path d="M1467.0,440.0 H1509.0"/>
</g>
<g stroke="#8e5f4b" stroke-width="3.1" fill="none">
<path d="M1575.0,241.0 V364.7 M1566.5,241.0 H1583.5 M1566.5,364.7 H1583.5"/>
<path d="M1567.0,301.8 H1583.0 M1567.0,296.3 V307.3 M1583.0,296.3 V307.3"/>
<circle cx="1575.0" cy="301.8" r="5.0"/>
<path d="M1590.0,241.0 V364.7 M1581.5,241.0 H1598.5 M1581.5,364.7 H1598.5"/>
<path d="M1582.0,301.8 H1598.0 M1582.0,296.3 V307.3 M1598.0,296.3 V307.3"/>
<circle cx="1590.0" cy="301.8" r="5.0"/>
<path d="M1600.0,241.0 V364.7 M1591.5,241.0 H1608.5 M1591.5,364.7 H1608.5"/>
<path d="M1592.0,301.8 H1608.0 M1592.0,296.3 V307.3 M1608.0,296.3 V307.3"/>
<circle cx="1600.0" cy="301.8" r="5.0"/>
<path d="M1612.7,241.0 V364.7 M1604.2,241.0 H1621.2 M1604.2,364.7 H1621.2"/>
<path d="M1604.7,301.8 H1620.7 M1604.7,296.3 V307.3 M1620.7,296.3 V307.3"/>
<circle cx="1612.7" cy="301.8" r="5.0"/>
</g>
<g stroke="#8e5f4b" stroke-width="3.1" fill="none">
<path d="M1539.5,316.4 V391.0 M1529.0,316.4 H1550.0 M1529.0,391.0 H1550.0"/>
<path d="M1542.2,316.4 V391.0 M1531.7,316.4 H1552.7 M1531.7,391.0 H1552.7"/>
<path d="M1545.0,316.4 V391.0 M1534.5,316.4 H1555.5 M1534.5,391.0 H1555.5"/>
<path d="M1547.7,316.4 V391.0 M1537.2,316.4 H1558.2 M1537.2,391.0 H1558.2"/>
<path d="M1550.4,316.4 V391.0 M1539.9,316.4 H1560.9 M1539.9,391.0 H1560.9"/>
<path d="M1553.1,316.4 V391.0 M1542.6,316.4 H1563.6 M1542.6,391.0 H1563.6"/>
<path d="M1555.9,316.4 V391.0 M1545.4,316.4 H1566.4 M1545.4,391.0 H1566.4"/>
<path d="M1558.6,316.4 V391.0 M1548.1,316.4 H1569.1 M1548.1,391.0 H1569.1"/>
<path d="M1561.3,316.4 V391.0 M1550.8,316.4 H1571.8 M1550.8,391.0 H1571.8"/>
<path d="M1564.0,316.4 V391.0 M1553.5,316.4 H1574.5 M1553.5,391.0 H1574.5"/>
<path d="M1566.8,316.4 V391.0 M1556.3,316.4 H1577.3 M1556.3,391.0 H1577.3"/>
<path d="M1569.5,316.4 V391.0 M1559.0,316.4 H1580.0 M1559.0,391.0 H1580.0"/>
<circle cx="1537.0" cy="353.8" r="5.0"/>
<circle cx="1541.5" cy="353.8" r="5.0"/>
<circle cx="1546.0" cy="353.8" r="5.0"/>
<circle cx="1550.5" cy="353.8" r="5.0"/>
<circle cx="1555.0" cy="353.8" r="5.0"/>
<circle cx="1559.5" cy="353.8" r="5.0"/>
<circle cx="1564.0" cy="353.8" r="5.0"/>
<circle cx="1568.5" cy="353.8" r="5.0"/>
<circle cx="1573.0" cy="353.8" r="5.0"/>
<path d="M1532.0,353.8 H1578.0"/>
</g>
<g stroke="#8e5f4b" stroke-width="2.5" fill="none"><path d="M1525.5,346.5 V361 M1525.5,353.8 H1540"/><circle cx="1532" cy="353.8" r="4.6"/></g>
<line x1="1276.4" y1="645.5" x2="1783.0" y2="127.8" stroke="#b5121b" stroke-width="3.4"/>
<rect x="1276.4" y="127.8" width="517.4" height="517.7" fill="none" stroke="#333" stroke-width="1.9"/>
<path d="M1276.4,645.5 v-16.5 M1276.4,127.8 v16.5 M1276.4,645.5 h16.5 M1793.8,645.5 h-16.5 M1297.1,645.5 v-9.0 M1297.1,127.8 v9.0 M1276.4,624.8 h9.0 M1793.8,624.8 h-9.0 M1317.8,645.5 v-9.0 M1317.8,127.8 v9.0 M1276.4,604.1 h9.0 M1793.8,604.1 h-9.0 M1338.5,645.5 v-9.0 M1338.5,127.8 v9.0 M1276.4,583.4 h9.0 M1793.8,583.4 h-9.0 M1359.2,645.5 v-9.0 M1359.2,127.8 v9.0 M1276.4,562.7 h9.0 M1793.8,562.7 h-9.0 M1379.9,645.5 v-16.5 M1379.9,127.8 v16.5 M1276.4,542.0 h16.5 M1793.8,542.0 h-16.5 M1400.6,645.5 v-9.0 M1400.6,127.8 v9.0 M1276.4,521.3 h9.0 M1793.8,521.3 h-9.0 M1421.3,645.5 v-9.0 M1421.3,127.8 v9.0 M1276.4,500.5 h9.0 M1793.8,500.5 h-9.0 M1442.0,645.5 v-9.0 M1442.0,127.8 v9.0 M1276.4,479.8 h9.0 M1793.8,479.8 h-9.0 M1462.7,645.5 v-9.0 M1462.7,127.8 v9.0 M1276.4,459.1 h9.0 M1793.8,459.1 h-9.0 M1483.4,645.5 v-16.5 M1483.4,127.8 v16.5 M1276.4,438.4 h16.5 M1793.8,438.4 h-16.5 M1504.1,645.5 v-9.0 M1504.1,127.8 v9.0 M1276.4,417.7 h9.0 M1793.8,417.7 h-9.0 M1524.8,645.5 v-9.0 M1524.8,127.8 v9.0 M1276.4,397.0 h9.0 M1793.8,397.0 h-9.0 M1545.4,645.5 v-9.0 M1545.4,127.8 v9.0 M1276.4,376.3 h9.0 M1793.8,376.3 h-9.0 M1566.1,645.5 v-9.0 M1566.1,127.8 v9.0 M1276.4,355.6 h9.0 M1793.8,355.6 h-9.0 M1586.8,645.5 v-16.5 M1586.8,127.8 v16.5 M1276.4,334.9 h16.5 M1793.8,334.9 h-16.5 M1607.5,645.5 v-9.0 M1607.5,127.8 v9.0 M1276.4,314.2 h9.0 M1793.8,314.2 h-9.0 M1628.2,645.5 v-9.0 M1628.2,127.8 v9.0 M1276.4,293.5 h9.0 M1793.8,293.5 h-9.0 M1648.9,645.5 v-9.0 M1648.9,127.8 v9.0 M1276.4,272.8 h9.0 M1793.8,272.8 h-9.0 M1669.6,645.5 v-9.0 M1669.6,127.8 v9.0 M1276.4,252.0 h9.0 M1793.8,252.0 h-9.0 M1690.3,645.5 v-16.5 M1690.3,127.8 v16.5 M1276.4,231.3 h16.5 M1793.8,231.3 h-16.5 M1711.0,645.5 v-9.0 M1711.0,127.8 v9.0 M1276.4,210.6 h9.0 M1793.8,210.6 h-9.0 M1731.7,645.5 v-9.0 M1731.7,127.8 v9.0 M1276.4,189.9 h9.0 M1793.8,189.9 h-9.0 M1752.4,645.5 v-9.0 M1752.4,127.8 v9.0 M1276.4,169.2 h9.0 M1793.8,169.2 h-9.0 M1773.1,645.5 v-9.0 M1773.1,127.8 v9.0 M1276.4,148.5 h9.0 M1793.8,148.5 h-9.0 M1793.8,645.5 v-16.5 M1793.8,127.8 v16.5 M1276.4,127.8 h16.5 M1793.8,127.8 h-16.5" stroke="#333" stroke-width="1.6" fill="none"/>
</g>
</svg>
</body></html>
